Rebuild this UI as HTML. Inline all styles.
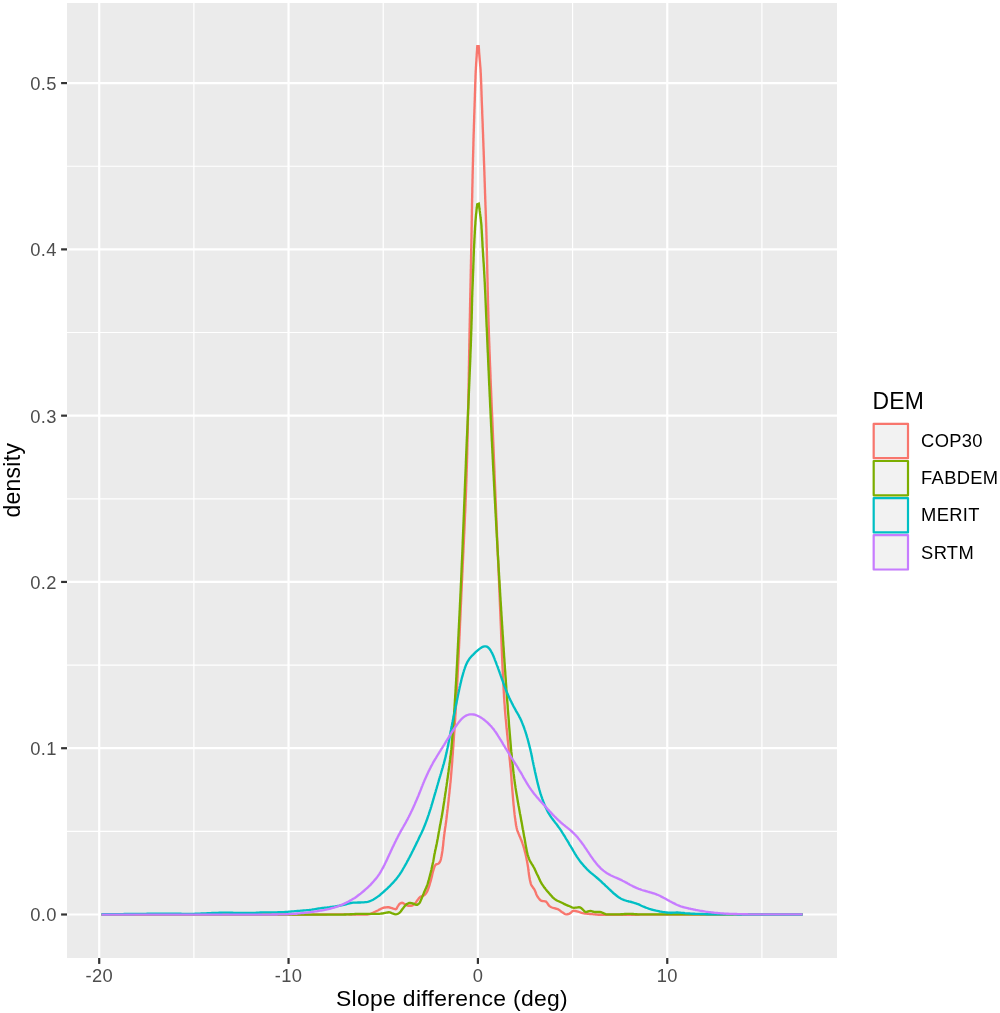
<!DOCTYPE html>
<html lang="en"><head><meta charset="utf-8"><title>Slope difference density</title>
<style>
html,body{margin:0;padding:0;background:#fff;}
body{width:1000px;height:1013px;overflow:hidden;}
svg{display:block;}
svg text{font-family:"Liberation Sans",sans-serif;}
</style></head><body>
<svg width="1000" height="1013" viewBox="0 0 1000 1013">
<rect x="0" y="0" width="1000" height="1013" fill="#FFFFFF"/>
<rect x="67.0" y="3.0" width="770.0" height="955.0" fill="#EBEBEB"/>
<line x1="193.88" x2="193.88" y1="3.0" y2="958.0" stroke="#FFFFFF" stroke-width="1.2"/>
<line x1="383.22" x2="383.22" y1="3.0" y2="958.0" stroke="#FFFFFF" stroke-width="1.2"/>
<line x1="572.57" x2="572.57" y1="3.0" y2="958.0" stroke="#FFFFFF" stroke-width="1.2"/>
<line x1="761.92" x2="761.92" y1="3.0" y2="958.0" stroke="#FFFFFF" stroke-width="1.2"/>
<line y1="831.36" y2="831.36" x1="67.0" x2="837.0" stroke="#FFFFFF" stroke-width="1.2"/>
<line y1="665.08" y2="665.08" x1="67.0" x2="837.0" stroke="#FFFFFF" stroke-width="1.2"/>
<line y1="498.80" y2="498.80" x1="67.0" x2="837.0" stroke="#FFFFFF" stroke-width="1.2"/>
<line y1="332.52" y2="332.52" x1="67.0" x2="837.0" stroke="#FFFFFF" stroke-width="1.2"/>
<line y1="166.24" y2="166.24" x1="67.0" x2="837.0" stroke="#FFFFFF" stroke-width="1.2"/>
<line x1="99.20" x2="99.20" y1="3.0" y2="958.0" stroke="#FFFFFF" stroke-width="2.2"/>
<line x1="288.55" x2="288.55" y1="3.0" y2="958.0" stroke="#FFFFFF" stroke-width="2.2"/>
<line x1="477.90" x2="477.90" y1="3.0" y2="958.0" stroke="#FFFFFF" stroke-width="2.2"/>
<line x1="667.25" x2="667.25" y1="3.0" y2="958.0" stroke="#FFFFFF" stroke-width="2.2"/>
<line y1="914.50" y2="914.50" x1="67.0" x2="837.0" stroke="#FFFFFF" stroke-width="2.2"/>
<line y1="748.22" y2="748.22" x1="67.0" x2="837.0" stroke="#FFFFFF" stroke-width="2.2"/>
<line y1="581.94" y2="581.94" x1="67.0" x2="837.0" stroke="#FFFFFF" stroke-width="2.2"/>
<line y1="415.66" y2="415.66" x1="67.0" x2="837.0" stroke="#FFFFFF" stroke-width="2.2"/>
<line y1="249.38" y2="249.38" x1="67.0" x2="837.0" stroke="#FFFFFF" stroke-width="2.2"/>
<line y1="83.10" y2="83.10" x1="67.0" x2="837.0" stroke="#FFFFFF" stroke-width="2.2"/>
<path d="M101.5,914.6 L102.7,914.6 L103.9,914.6 L105.1,914.6 L106.3,914.6 L107.5,914.6 L108.7,914.6 L109.9,914.6 L111.1,914.6 L112.3,914.6 L113.5,914.6 L114.7,914.6 L115.9,914.6 L117.1,914.6 L118.3,914.6 L119.5,914.6 L120.7,914.6 L121.9,914.6 L123.1,914.6 L124.3,914.6 L125.5,914.6 L126.7,914.6 L127.9,914.6 L129.1,914.6 L130.3,914.6 L131.6,914.6 L132.8,914.6 L134.0,914.6 L135.2,914.6 L136.4,914.6 L137.6,914.6 L138.8,914.6 L140.0,914.6 L141.2,914.6 L142.4,914.6 L143.6,914.6 L144.8,914.6 L146.0,914.6 L147.2,914.6 L148.4,914.6 L149.6,914.6 L150.8,914.6 L152.0,914.6 L153.2,914.6 L154.4,914.6 L155.6,914.6 L156.8,914.6 L158.0,914.6 L159.2,914.6 L160.4,914.6 L161.6,914.6 L162.8,914.6 L164.0,914.6 L165.2,914.6 L166.4,914.6 L167.6,914.6 L168.8,914.6 L170.0,914.6 L171.2,914.6 L172.4,914.6 L173.6,914.6 L174.8,914.6 L176.0,914.6 L177.2,914.6 L178.4,914.6 L179.6,914.6 L180.8,914.6 L182.0,914.6 L183.2,914.6 L184.4,914.6 L185.6,914.6 L186.8,914.6 L188.0,914.6 L189.3,914.6 L190.5,914.6 L191.7,914.6 L192.9,914.6 L194.1,914.6 L195.3,914.6 L196.5,914.6 L197.7,914.6 L198.9,914.6 L200.1,914.6 L201.3,914.6 L202.5,914.6 L203.7,914.6 L204.9,914.6 L206.1,914.6 L207.3,914.6 L208.5,914.6 L209.7,914.6 L210.9,914.6 L212.1,914.6 L213.3,914.6 L214.5,914.6 L215.7,914.6 L216.9,914.6 L218.1,914.6 L219.3,914.6 L220.5,914.6 L221.7,914.6 L222.9,914.6 L224.1,914.6 L225.3,914.6 L226.5,914.6 L227.7,914.6 L228.9,914.6 L230.1,914.6 L231.3,914.6 L232.5,914.6 L233.7,914.6 L234.9,914.6 L236.1,914.6 L237.3,914.6 L238.5,914.6 L239.7,914.6 L240.9,914.6 L242.1,914.6 L243.3,914.6 L244.5,914.6 L245.7,914.6 L246.9,914.6 L248.2,914.6 L249.4,914.6 L250.6,914.6 L251.8,914.6 L253.0,914.6 L254.2,914.6 L255.4,914.6 L256.6,914.6 L257.8,914.6 L259.0,914.6 L260.2,914.6 L261.4,914.6 L262.6,914.6 L263.8,914.6 L265.0,914.6 L266.2,914.6 L267.4,914.6 L268.6,914.6 L269.8,914.6 L271.0,914.6 L272.2,914.6 L273.4,914.6 L274.6,914.6 L275.8,914.6 L277.0,914.6 L278.2,914.6 L279.4,914.6 L280.6,914.6 L281.8,914.6 L283.0,914.6 L284.2,914.6 L285.4,914.6 L286.6,914.6 L287.8,914.6 L289.0,914.6 L290.2,914.6 L291.4,914.6 L292.6,914.6 L293.8,914.6 L295.0,914.6 L296.2,914.6 L297.4,914.6 L298.6,914.6 L299.8,914.6 L301.0,914.6 L302.2,914.6 L303.4,914.6 L304.6,914.6 L305.8,914.6 L307.1,914.6 L308.3,914.6 L309.5,914.6 L310.7,914.6 L311.9,914.6 L313.1,914.5 L314.3,914.5 L315.5,914.5 L316.7,914.5 L317.9,914.5 L319.1,914.5 L320.3,914.5 L321.5,914.5 L322.7,914.5 L323.9,914.5 L325.1,914.5 L326.3,914.5 L327.5,914.4 L328.7,914.4 L329.9,914.4 L331.1,914.4 L332.3,914.4 L333.5,914.4 L334.7,914.4 L335.9,914.4 L337.1,914.4 L338.3,914.4 L339.5,914.4 L340.7,914.4 L341.9,914.4 L343.1,914.4 L344.3,914.4 L345.5,914.4 L346.7,914.4 L347.9,914.4 L349.1,914.5 L350.3,914.5 L351.5,914.5 L352.7,914.5 L353.9,914.5 L355.1,914.5 L356.3,914.5 L357.5,914.6 L358.7,914.6 L360.0,914.6 L361.2,914.6 L362.4,914.6 L363.6,914.6 L364.7,914.6 L366.0,914.6 L367.2,914.5 L368.4,914.4 L369.6,914.2 L370.7,913.9 L371.8,913.4 L372.9,912.9 L374.0,912.3 L375.0,911.8 L376.1,911.2 L377.2,910.7 L378.3,910.2 L379.3,909.6 L380.4,909.1 L381.5,908.5 L382.6,908.1 L383.7,907.7 L384.9,907.5 L386.1,907.3 L387.3,907.2 L388.5,907.2 L389.7,907.5 L390.9,907.8 L392.0,908.1 L393.3,908.6 L394.5,909.0 L395.5,909.3 L396.3,909.0 L397.0,907.9 L397.6,906.6 L398.3,905.6 L399.0,904.5 L399.8,903.6 L400.8,903.1 L402.0,902.8 L403.1,903.1 L404.1,903.8 L405.2,904.4 L406.3,905.0 L407.4,905.5 L408.6,905.7 L409.8,905.7 L411.0,905.7 L412.1,905.6 L413.2,905.0 L414.2,904.2 L415.1,903.4 L415.9,902.5 L416.6,901.5 L417.2,900.4 L418.0,899.5 L418.7,898.5 L419.5,897.5 L420.4,896.8 L421.4,896.3 L422.6,895.9 L423.8,895.5 L424.7,894.8 L425.5,894.0 L426.3,892.9 L426.9,891.9 L427.4,890.9 L427.9,889.8 L428.3,888.6 L428.7,887.5 L429.1,886.3 L429.5,885.2 L429.8,884.0 L430.1,882.9 L430.5,881.7 L430.8,880.6 L431.1,879.4 L431.4,878.2 L431.7,877.1 L432.0,875.9 L432.2,874.7 L432.5,873.5 L432.8,872.4 L433.1,871.2 L433.4,870.1 L433.8,868.9 L434.2,867.7 L434.6,866.4 L435.2,865.4 L435.8,864.6 L436.9,864.2 L438.2,863.8 L439.0,863.1 L439.8,862.1 L440.3,861.0 L440.7,859.9 L441.0,858.7 L441.2,857.5 L441.5,856.3 L441.7,855.2 L441.9,854.0 L442.1,852.8 L442.3,851.6 L442.5,850.4 L442.6,849.2 L442.8,848.0 L442.9,846.8 L443.1,845.6 L443.2,844.4 L443.3,843.2 L443.4,842.0 L443.5,840.8 L443.7,839.7 L443.8,838.5 L443.9,837.3 L444.1,836.1 L444.2,834.9 L444.4,833.7 L444.5,832.5 L444.7,831.3 L444.9,830.1 L445.0,828.9 L445.2,827.7 L445.4,826.5 L445.6,825.4 L445.7,824.2 L445.9,823.0 L446.1,821.8 L446.2,820.6 L446.4,819.4 L446.5,818.2 L446.7,817.0 L446.8,815.8 L446.9,814.6 L447.1,813.4 L447.2,812.2 L447.4,811.0 L447.5,809.9 L447.7,808.7 L447.8,807.5 L447.9,806.3 L448.1,805.1 L448.2,803.9 L448.3,802.7 L448.5,801.5 L448.6,800.3 L448.7,799.1 L448.8,797.9 L449.0,796.7 L449.1,795.5 L449.2,794.3 L449.4,793.1 L449.5,791.9 L449.6,790.7 L449.7,789.5 L449.9,788.3 L450.0,787.1 L450.1,785.9 L450.2,784.8 L450.3,783.6 L450.5,782.4 L450.6,781.2 L450.7,780.0 L450.8,778.8 L450.9,777.6 L451.0,776.4 L451.1,775.2 L451.2,774.0 L451.3,772.8 L451.4,771.6 L451.5,770.4 L451.6,769.2 L451.7,768.0 L451.8,766.8 L451.9,765.6 L452.0,764.4 L452.1,763.2 L452.2,762.0 L452.3,760.8 L452.3,759.6 L452.4,758.4 L452.5,757.2 L452.6,756.0 L452.7,754.8 L452.8,753.6 L452.9,752.4 L452.9,751.2 L453.0,750.0 L453.1,748.8 L453.2,747.6 L453.3,746.4 L453.4,745.2 L453.4,744.0 L453.5,742.8 L453.6,741.6 L453.7,740.4 L453.8,739.2 L453.9,738.0 L453.9,736.8 L454.0,735.6 L454.1,734.4 L454.2,733.2 L454.3,732.0 L454.4,730.8 L454.4,729.6 L454.5,728.4 L454.6,727.2 L454.7,726.0 L454.8,724.8 L454.9,723.6 L454.9,722.4 L455.0,721.2 L455.1,720.0 L455.2,718.8 L455.2,717.6 L455.3,716.4 L455.4,715.2 L455.5,714.0 L455.6,712.8 L455.6,711.6 L455.7,710.4 L455.8,709.2 L455.8,708.0 L455.9,706.8 L456.0,705.6 L456.1,704.4 L456.1,703.2 L456.2,702.0 L456.3,700.8 L456.3,699.6 L456.4,698.4 L456.5,697.2 L456.5,696.0 L456.6,694.8 L456.7,693.6 L456.7,692.4 L456.8,691.2 L456.9,690.0 L456.9,688.8 L457.0,687.6 L457.1,686.4 L457.1,685.2 L457.2,684.0 L457.2,682.8 L457.3,681.6 L457.4,680.4 L457.4,679.2 L457.5,678.0 L457.6,676.8 L457.6,675.6 L457.7,674.4 L457.7,673.2 L457.8,672.0 L457.9,670.8 L457.9,669.6 L458.0,668.4 L458.0,667.2 L458.1,666.0 L458.2,664.8 L458.2,663.6 L458.3,662.4 L458.3,661.2 L458.4,660.0 L458.4,658.8 L458.5,657.6 L458.6,656.4 L458.6,655.2 L458.7,654.0 L458.7,652.8 L458.8,651.6 L458.8,650.4 L458.9,649.2 L459.0,648.0 L459.0,646.8 L459.1,645.6 L459.1,644.4 L459.2,643.2 L459.2,642.0 L459.3,640.8 L459.3,639.6 L459.4,638.4 L459.4,637.2 L459.5,636.0 L459.6,634.8 L459.6,633.6 L459.7,632.4 L459.7,631.2 L459.8,630.0 L459.8,628.8 L459.9,627.6 L459.9,626.4 L460.0,625.2 L460.0,624.0 L460.1,622.8 L460.1,621.6 L460.2,620.4 L460.3,619.2 L460.3,618.0 L460.4,616.8 L460.4,615.6 L460.5,614.4 L460.5,613.2 L460.6,612.0 L460.6,610.8 L460.7,609.6 L460.7,608.4 L460.8,607.2 L460.8,606.0 L460.9,604.8 L461.0,603.6 L461.0,602.4 L461.1,601.2 L461.1,600.0 L461.2,598.8 L461.2,597.6 L461.3,596.4 L461.3,595.2 L461.4,594.0 L461.4,592.8 L461.5,591.6 L461.6,590.4 L461.6,589.2 L461.7,588.0 L461.7,586.8 L461.8,585.6 L461.8,584.4 L461.9,583.2 L461.9,582.0 L462.0,580.8 L462.1,579.6 L462.1,578.4 L462.2,577.2 L462.2,576.0 L462.3,574.8 L462.3,573.6 L462.4,572.4 L462.5,571.2 L462.5,570.0 L462.6,568.8 L462.6,567.6 L462.7,566.4 L462.7,565.1 L462.8,563.9 L462.9,562.7 L462.9,561.5 L463.0,560.3 L463.0,559.1 L463.1,557.9 L463.1,556.7 L463.2,555.5 L463.2,554.3 L463.3,553.1 L463.4,551.9 L463.4,550.7 L463.5,549.5 L463.5,548.3 L463.6,547.1 L463.6,545.9 L463.7,544.7 L463.8,543.5 L463.8,542.3 L463.9,541.1 L463.9,539.9 L464.0,538.7 L464.0,537.5 L464.1,536.3 L464.1,535.1 L464.2,533.9 L464.3,532.7 L464.3,531.5 L464.4,530.3 L464.4,529.1 L464.5,527.9 L464.5,526.7 L464.6,525.5 L464.6,524.3 L464.7,523.1 L464.7,521.9 L464.8,520.7 L464.8,519.5 L464.9,518.3 L464.9,517.1 L465.0,515.9 L465.0,514.7 L465.1,513.5 L465.2,512.3 L465.2,511.1 L465.3,509.9 L465.3,508.7 L465.4,507.5 L465.4,506.3 L465.5,505.1 L465.5,503.9 L465.5,502.7 L465.6,501.5 L465.6,500.3 L465.7,499.1 L465.7,497.9 L465.8,496.7 L465.8,495.5 L465.9,494.3 L465.9,493.1 L466.0,491.9 L466.0,490.7 L466.1,489.5 L466.1,488.3 L466.1,487.1 L466.2,485.9 L466.2,484.7 L466.3,483.5 L466.3,482.3 L466.4,481.1 L466.4,479.9 L466.4,478.7 L466.5,477.5 L466.5,476.3 L466.6,475.1 L466.6,473.9 L466.6,472.7 L466.7,471.5 L466.7,470.3 L466.7,469.1 L466.8,467.9 L466.8,466.7 L466.9,465.5 L466.9,464.3 L466.9,463.1 L467.0,461.9 L467.0,460.7 L467.0,459.5 L467.1,458.3 L467.1,457.1 L467.1,455.9 L467.2,454.7 L467.2,453.4 L467.2,452.2 L467.2,451.0 L467.3,449.8 L467.3,448.6 L467.3,447.4 L467.4,446.2 L467.4,445.0 L467.4,443.8 L467.4,442.6 L467.5,441.4 L467.5,440.2 L467.5,439.0 L467.6,437.8 L467.6,436.6 L467.6,435.4 L467.6,434.2 L467.7,433.0 L467.7,431.8 L467.7,430.6 L467.8,429.4 L467.8,428.2 L467.8,427.0 L467.8,425.8 L467.9,424.6 L467.9,423.4 L467.9,422.2 L467.9,421.0 L468.0,419.8 L468.0,418.6 L468.0,417.4 L468.0,416.2 L468.1,415.0 L468.1,413.8 L468.1,412.6 L468.1,411.4 L468.1,410.2 L468.2,409.0 L468.2,407.8 L468.2,406.6 L468.2,405.4 L468.3,404.2 L468.3,403.0 L468.3,401.8 L468.3,400.6 L468.4,399.4 L468.4,398.2 L468.4,397.0 L468.4,395.8 L468.4,394.6 L468.5,393.4 L468.5,392.2 L468.5,391.0 L468.5,389.8 L468.6,388.6 L468.6,387.4 L468.6,386.2 L468.6,384.9 L468.6,383.7 L468.7,382.5 L468.7,381.3 L468.7,380.1 L468.7,378.9 L468.8,377.7 L468.8,376.5 L468.8,375.3 L468.8,374.1 L468.8,372.9 L468.9,371.7 L468.9,370.5 L468.9,369.3 L468.9,368.1 L468.9,366.9 L469.0,365.7 L469.0,364.5 L469.0,363.3 L469.0,362.1 L469.0,360.9 L469.1,359.7 L469.1,358.5 L469.1,357.3 L469.1,356.1 L469.2,354.9 L469.2,353.7 L469.2,352.5 L469.2,351.3 L469.2,350.1 L469.3,348.9 L469.3,347.7 L469.3,346.5 L469.3,345.3 L469.3,344.1 L469.4,342.9 L469.4,341.7 L469.4,340.5 L469.4,339.3 L469.5,338.1 L469.5,336.9 L469.5,335.7 L469.5,334.5 L469.5,333.3 L469.6,332.1 L469.6,330.9 L469.6,329.7 L469.6,328.5 L469.7,327.3 L469.7,326.1 L469.7,324.9 L469.7,323.7 L469.8,322.4 L469.8,321.2 L469.8,320.0 L469.8,318.8 L469.9,317.6 L469.9,316.4 L469.9,315.2 L469.9,314.0 L470.0,312.8 L470.0,311.6 L470.0,310.4 L470.0,309.2 L470.0,308.0 L470.1,306.8 L470.1,305.6 L470.1,304.4 L470.1,303.2 L470.2,302.0 L470.2,300.8 L470.2,299.6 L470.2,298.4 L470.3,297.2 L470.3,296.0 L470.3,294.8 L470.3,293.6 L470.4,292.4 L470.4,291.2 L470.4,290.0 L470.4,288.8 L470.5,287.6 L470.5,286.4 L470.5,285.2 L470.5,284.0 L470.6,282.8 L470.6,281.6 L470.6,280.4 L470.6,279.2 L470.7,278.0 L470.7,276.8 L470.7,275.6 L470.7,274.4 L470.8,273.2 L470.8,272.0 L470.8,270.8 L470.8,269.6 L470.9,268.4 L470.9,267.2 L470.9,266.0 L470.9,264.8 L471.0,263.6 L471.0,262.4 L471.0,261.2 L471.0,260.0 L471.1,258.8 L471.1,257.6 L471.1,256.3 L471.1,255.1 L471.2,253.9 L471.2,252.7 L471.2,251.5 L471.2,250.3 L471.2,249.1 L471.3,247.9 L471.3,246.7 L471.3,245.5 L471.3,244.3 L471.4,243.1 L471.4,241.9 L471.4,240.7 L471.4,239.5 L471.5,238.3 L471.5,237.1 L471.5,235.9 L471.5,234.7 L471.5,233.5 L471.6,232.3 L471.6,231.1 L471.6,229.9 L471.6,228.7 L471.6,227.5 L471.7,226.3 L471.7,225.1 L471.7,223.9 L471.7,222.7 L471.7,221.5 L471.8,220.3 L471.8,219.1 L471.8,217.9 L471.8,216.7 L471.8,215.5 L471.9,214.3 L471.9,213.1 L471.9,211.9 L471.9,210.7 L471.9,209.5 L472.0,208.3 L472.0,207.1 L472.0,205.9 L472.0,204.7 L472.0,203.5 L472.1,202.3 L472.1,201.1 L472.1,199.9 L472.1,198.7 L472.2,197.5 L472.2,196.3 L472.2,195.1 L472.2,193.9 L472.3,192.7 L472.3,191.4 L472.3,190.2 L472.3,189.0 L472.3,187.8 L472.4,186.6 L472.4,185.4 L472.4,184.2 L472.5,183.0 L472.5,181.8 L472.5,180.6 L472.5,179.4 L472.6,178.2 L472.6,177.0 L472.6,175.8 L472.6,174.6 L472.7,173.4 L472.7,172.2 L472.7,171.0 L472.8,169.8 L472.8,168.6 L472.8,167.4 L472.8,166.2 L472.9,165.0 L472.9,163.8 L472.9,162.6 L473.0,161.4 L473.0,160.2 L473.0,159.0 L473.0,157.8 L473.1,156.6 L473.1,155.4 L473.1,154.2 L473.2,153.0 L473.2,151.8 L473.2,150.6 L473.3,149.4 L473.3,148.2 L473.3,147.0 L473.4,145.8 L473.4,144.6 L473.4,143.4 L473.4,142.2 L473.5,141.0 L473.5,139.8 L473.5,138.6 L473.6,137.4 L473.6,136.2 L473.6,135.0 L473.7,133.8 L473.7,132.6 L473.8,131.4 L473.8,130.2 L473.8,129.0 L473.9,127.8 L473.9,126.6 L473.9,125.4 L474.0,124.2 L474.0,123.0 L474.1,121.8 L474.1,120.6 L474.1,119.4 L474.2,118.1 L474.2,116.9 L474.2,115.7 L474.3,114.5 L474.3,113.3 L474.4,112.1 L474.4,110.9 L474.4,109.7 L474.5,108.5 L474.5,107.3 L474.6,106.1 L474.6,104.9 L474.6,103.7 L474.7,102.5 L474.7,101.3 L474.8,100.1 L474.8,98.9 L474.8,97.7 L474.9,96.5 L474.9,95.3 L474.9,94.1 L475.0,92.9 L475.0,91.7 L475.1,90.5 L475.1,89.3 L475.1,88.1 L475.2,86.9 L475.2,85.7 L475.2,84.5 L475.3,83.3 L475.3,82.1 L475.4,80.9 L475.4,79.7 L475.5,78.5 L475.5,77.3 L475.5,76.1 L475.6,74.9 L475.6,73.7 L475.7,72.5 L475.7,71.3 L475.8,70.1 L475.9,68.9 L475.9,67.7 L476.0,66.5 L476.1,65.3 L476.1,64.1 L476.2,62.9 L476.3,61.7 L476.4,60.5 L476.4,59.3 L476.5,58.1 L476.6,56.9 L476.7,55.7 L476.7,54.5 L476.8,53.3 L476.9,52.1 L477.0,50.9 L477.1,49.7 L477.1,48.5 L477.2,47.3 L477.3,46.1 L478.7,46.1 L478.8,47.3 L478.9,48.5 L479.0,49.7 L479.0,50.9 L479.1,52.1 L479.2,53.3 L479.3,54.5 L479.4,55.7 L479.5,56.9 L479.6,58.1 L479.7,59.3 L479.8,60.5 L479.9,61.7 L480.0,62.9 L480.1,64.1 L480.2,65.3 L480.3,66.5 L480.4,67.7 L480.5,68.9 L480.6,70.1 L480.6,71.3 L480.7,72.5 L480.8,73.7 L480.8,74.9 L480.9,76.1 L480.9,77.3 L481.0,78.5 L481.0,79.7 L481.1,80.9 L481.1,82.1 L481.2,83.3 L481.2,84.5 L481.3,85.7 L481.3,86.9 L481.3,88.1 L481.4,89.3 L481.4,90.5 L481.5,91.7 L481.5,92.9 L481.5,94.1 L481.6,95.3 L481.6,96.5 L481.7,97.7 L481.7,98.9 L481.7,100.1 L481.8,101.3 L481.8,102.5 L481.9,103.7 L481.9,104.9 L482.0,106.1 L482.0,107.3 L482.1,108.5 L482.1,109.7 L482.2,110.9 L482.2,112.1 L482.2,113.3 L482.3,114.5 L482.3,115.7 L482.4,116.9 L482.4,118.1 L482.5,119.3 L482.5,120.5 L482.6,121.7 L482.6,122.9 L482.7,124.2 L482.7,125.4 L482.7,126.6 L482.8,127.8 L482.8,129.0 L482.9,130.2 L482.9,131.4 L483.0,132.6 L483.0,133.8 L483.1,135.0 L483.1,136.2 L483.1,137.4 L483.2,138.6 L483.2,139.8 L483.3,141.0 L483.3,142.2 L483.4,143.4 L483.4,144.6 L483.4,145.8 L483.5,147.0 L483.5,148.2 L483.6,149.4 L483.6,150.6 L483.7,151.8 L483.7,153.0 L483.7,154.2 L483.8,155.4 L483.8,156.6 L483.9,157.8 L483.9,159.0 L483.9,160.2 L484.0,161.4 L484.0,162.6 L484.1,163.8 L484.1,165.0 L484.2,166.2 L484.2,167.4 L484.2,168.6 L484.3,169.8 L484.3,171.0 L484.4,172.2 L484.4,173.4 L484.4,174.6 L484.5,175.8 L484.5,177.0 L484.6,178.2 L484.6,179.4 L484.6,180.6 L484.7,181.8 L484.7,183.0 L484.8,184.2 L484.8,185.4 L484.8,186.6 L484.9,187.8 L484.9,189.0 L485.0,190.2 L485.0,191.5 L485.0,192.7 L485.1,193.9 L485.1,195.1 L485.2,196.3 L485.2,197.5 L485.2,198.7 L485.3,199.9 L485.3,201.1 L485.4,202.3 L485.4,203.5 L485.4,204.7 L485.5,205.9 L485.5,207.1 L485.6,208.3 L485.6,209.5 L485.7,210.7 L485.7,211.9 L485.7,213.1 L485.8,214.3 L485.8,215.5 L485.9,216.7 L485.9,217.9 L485.9,219.1 L486.0,220.3 L486.0,221.5 L486.1,222.7 L486.1,223.9 L486.1,225.1 L486.2,226.3 L486.2,227.5 L486.3,228.7 L486.3,229.9 L486.3,231.1 L486.4,232.3 L486.4,233.5 L486.4,234.7 L486.5,235.9 L486.5,237.1 L486.5,238.3 L486.6,239.5 L486.6,240.7 L486.6,241.9 L486.6,243.1 L486.7,244.3 L486.7,245.5 L486.7,246.7 L486.8,247.9 L486.8,249.1 L486.8,250.3 L486.9,251.5 L486.9,252.7 L486.9,254.0 L486.9,255.2 L487.0,256.4 L487.0,257.6 L487.0,258.8 L487.1,260.0 L487.1,261.2 L487.1,262.4 L487.1,263.6 L487.2,264.8 L487.2,266.0 L487.2,267.2 L487.2,268.4 L487.3,269.6 L487.3,270.8 L487.3,272.0 L487.3,273.2 L487.4,274.4 L487.4,275.6 L487.4,276.8 L487.5,278.0 L487.5,279.2 L487.5,280.4 L487.5,281.6 L487.6,282.8 L487.6,284.0 L487.6,285.2 L487.6,286.4 L487.7,287.6 L487.7,288.8 L487.7,290.0 L487.7,291.2 L487.8,292.4 L487.8,293.6 L487.8,294.8 L487.9,296.0 L487.9,297.2 L487.9,298.4 L487.9,299.6 L488.0,300.8 L488.0,302.0 L488.0,303.2 L488.1,304.4 L488.1,305.6 L488.1,306.8 L488.2,308.1 L488.2,309.3 L488.2,310.5 L488.3,311.7 L488.3,312.9 L488.3,314.1 L488.4,315.3 L488.4,316.5 L488.4,317.7 L488.5,318.9 L488.5,320.1 L488.5,321.3 L488.6,322.5 L488.6,323.7 L488.6,324.9 L488.7,326.1 L488.7,327.3 L488.8,328.5 L488.8,329.7 L488.8,330.9 L488.9,332.1 L488.9,333.3 L488.9,334.5 L489.0,335.7 L489.0,336.9 L489.1,338.1 L489.1,339.3 L489.1,340.5 L489.2,341.7 L489.2,342.9 L489.3,344.1 L489.3,345.3 L489.4,346.5 L489.4,347.7 L489.4,348.9 L489.5,350.1 L489.5,351.3 L489.6,352.5 L489.6,353.7 L489.7,354.9 L489.7,356.1 L489.8,357.3 L489.8,358.5 L489.8,359.7 L489.9,360.9 L489.9,362.1 L490.0,363.3 L490.0,364.5 L490.1,365.7 L490.1,366.9 L490.2,368.1 L490.2,369.3 L490.3,370.5 L490.3,371.7 L490.4,372.9 L490.4,374.1 L490.5,375.3 L490.5,376.6 L490.5,377.8 L490.6,379.0 L490.6,380.2 L490.7,381.4 L490.7,382.6 L490.8,383.8 L490.8,385.0 L490.9,386.2 L490.9,387.4 L491.0,388.6 L491.0,389.8 L491.1,391.0 L491.1,392.2 L491.2,393.4 L491.2,394.6 L491.3,395.8 L491.3,397.0 L491.4,398.2 L491.4,399.4 L491.5,400.6 L491.5,401.8 L491.6,403.0 L491.6,404.2 L491.7,405.4 L491.7,406.6 L491.8,407.8 L491.8,409.0 L491.9,410.2 L491.9,411.4 L492.0,412.6 L492.1,413.8 L492.1,415.0 L492.2,416.2 L492.2,417.4 L492.3,418.6 L492.3,419.8 L492.4,421.0 L492.4,422.2 L492.5,423.4 L492.5,424.6 L492.6,425.8 L492.6,427.0 L492.7,428.2 L492.7,429.4 L492.8,430.6 L492.8,431.8 L492.9,433.0 L492.9,434.2 L493.0,435.4 L493.0,436.6 L493.1,437.8 L493.1,439.0 L493.2,440.2 L493.2,441.4 L493.3,442.6 L493.3,443.8 L493.4,445.0 L493.4,446.2 L493.5,447.4 L493.5,448.6 L493.6,449.8 L493.6,451.0 L493.7,452.2 L493.7,453.4 L493.8,454.6 L493.8,455.9 L493.9,457.1 L493.9,458.3 L494.0,459.5 L494.0,460.7 L494.1,461.9 L494.1,463.1 L494.2,464.3 L494.2,465.5 L494.3,466.7 L494.3,467.9 L494.4,469.1 L494.4,470.3 L494.5,471.5 L494.5,472.7 L494.5,473.9 L494.6,475.1 L494.6,476.3 L494.7,477.5 L494.7,478.7 L494.8,479.9 L494.8,481.1 L494.9,482.3 L494.9,483.5 L495.0,484.7 L495.0,485.9 L495.1,487.1 L495.1,488.3 L495.2,489.5 L495.2,490.7 L495.3,491.9 L495.3,493.1 L495.4,494.3 L495.4,495.5 L495.5,496.7 L495.5,497.9 L495.6,499.1 L495.6,500.3 L495.7,501.5 L495.7,502.7 L495.8,503.9 L495.8,505.1 L495.9,506.3 L495.9,507.5 L496.0,508.7 L496.0,509.9 L496.1,511.1 L496.1,512.3 L496.2,513.5 L496.2,514.7 L496.3,515.9 L496.3,517.1 L496.4,518.3 L496.4,519.5 L496.5,520.7 L496.5,521.9 L496.6,523.1 L496.6,524.3 L496.7,525.5 L496.7,526.7 L496.8,527.9 L496.8,529.1 L496.9,530.3 L496.9,531.5 L497.0,532.7 L497.0,533.9 L497.0,535.2 L497.1,536.4 L497.1,537.6 L497.2,538.8 L497.2,540.0 L497.3,541.2 L497.3,542.4 L497.4,543.6 L497.4,544.8 L497.5,546.0 L497.5,547.2 L497.6,548.4 L497.6,549.6 L497.7,550.8 L497.7,552.0 L497.8,553.2 L497.8,554.4 L497.9,555.6 L497.9,556.8 L498.0,558.0 L498.0,559.2 L498.1,560.4 L498.2,561.6 L498.2,562.8 L498.3,564.0 L498.3,565.2 L498.4,566.4 L498.4,567.6 L498.5,568.8 L498.5,570.0 L498.6,571.2 L498.6,572.4 L498.7,573.6 L498.7,574.8 L498.8,576.0 L498.8,577.2 L498.9,578.4 L498.9,579.6 L499.0,580.8 L499.0,582.0 L499.1,583.2 L499.1,584.4 L499.2,585.6 L499.2,586.8 L499.3,588.0 L499.3,589.2 L499.4,590.4 L499.4,591.6 L499.5,592.8 L499.5,594.0 L499.6,595.2 L499.6,596.4 L499.7,597.6 L499.7,598.8 L499.8,600.0 L499.8,601.2 L499.9,602.4 L499.9,603.6 L500.0,604.8 L500.0,606.0 L500.1,607.2 L500.1,608.4 L500.2,609.6 L500.2,610.8 L500.3,612.0 L500.3,613.2 L500.4,614.4 L500.4,615.6 L500.5,616.9 L500.5,618.1 L500.6,619.3 L500.6,620.5 L500.7,621.7 L500.7,622.9 L500.8,624.1 L500.8,625.3 L500.9,626.5 L500.9,627.7 L501.0,628.9 L501.0,630.1 L501.1,631.3 L501.1,632.5 L501.1,633.7 L501.2,634.9 L501.2,636.1 L501.3,637.3 L501.3,638.5 L501.4,639.7 L501.4,640.9 L501.5,642.1 L501.5,643.3 L501.6,644.5 L501.6,645.7 L501.7,646.9 L501.7,648.1 L501.8,649.3 L501.8,650.5 L501.9,651.7 L501.9,652.9 L502.0,654.1 L502.0,655.3 L502.1,656.5 L502.1,657.7 L502.2,658.9 L502.2,660.1 L502.3,661.3 L502.3,662.5 L502.4,663.7 L502.4,664.9 L502.5,666.1 L502.5,667.3 L502.6,668.5 L502.7,669.7 L502.7,670.9 L502.8,672.1 L502.8,673.3 L502.9,674.5 L502.9,675.7 L503.0,676.9 L503.1,678.1 L503.1,679.3 L503.2,680.5 L503.2,681.7 L503.3,682.9 L503.4,684.1 L503.4,685.3 L503.5,686.5 L503.6,687.7 L503.6,688.9 L503.7,690.1 L503.8,691.3 L503.8,692.5 L503.9,693.7 L504.0,694.9 L504.0,696.1 L504.1,697.3 L504.2,698.5 L504.3,699.7 L504.3,700.9 L504.4,702.1 L504.5,703.3 L504.6,704.5 L504.7,705.7 L504.8,706.9 L504.8,708.1 L504.9,709.3 L505.0,710.5 L505.1,711.7 L505.2,712.9 L505.3,714.1 L505.4,715.3 L505.5,716.5 L505.6,717.7 L505.7,718.9 L505.9,720.1 L506.0,721.3 L506.1,722.5 L506.2,723.7 L506.3,724.9 L506.4,726.1 L506.5,727.3 L506.6,728.5 L506.8,729.7 L506.9,730.9 L507.0,732.1 L507.1,733.3 L507.2,734.5 L507.4,735.7 L507.5,736.9 L507.6,738.1 L507.7,739.3 L507.8,740.5 L508.0,741.7 L508.1,742.9 L508.2,744.1 L508.3,745.3 L508.4,746.4 L508.5,747.6 L508.7,748.8 L508.8,750.0 L508.9,751.2 L509.0,752.4 L509.1,753.6 L509.3,754.8 L509.4,756.0 L509.5,757.2 L509.6,758.4 L509.7,759.6 L509.9,760.8 L510.0,762.0 L510.1,763.2 L510.2,764.4 L510.3,765.6 L510.4,766.8 L510.6,768.0 L510.7,769.2 L510.8,770.4 L510.9,771.6 L511.0,772.8 L511.1,774.0 L511.2,775.2 L511.3,776.4 L511.4,777.6 L511.5,778.8 L511.5,780.0 L511.6,781.2 L511.7,782.4 L511.8,783.6 L511.9,784.8 L512.0,786.0 L512.1,787.2 L512.2,788.4 L512.3,789.6 L512.4,790.8 L512.5,792.0 L512.6,793.2 L512.7,794.4 L512.8,795.6 L512.9,796.8 L513.0,798.0 L513.1,799.2 L513.2,800.4 L513.3,801.5 L513.4,802.7 L513.5,803.9 L513.6,805.1 L513.8,806.3 L513.9,807.5 L514.0,808.7 L514.1,809.9 L514.2,811.1 L514.4,812.3 L514.5,813.5 L514.6,814.7 L514.8,815.9 L514.9,817.1 L515.1,818.3 L515.3,819.5 L515.4,820.7 L515.6,821.9 L515.8,823.1 L515.9,824.3 L516.1,825.5 L516.4,826.6 L516.6,827.8 L516.9,829.0 L517.2,830.1 L517.6,831.2 L518.1,832.4 L518.5,833.5 L519.0,834.6 L519.4,835.7 L519.9,836.8 L520.4,837.9 L520.8,839.0 L521.3,840.2 L521.7,841.3 L522.2,842.4 L522.5,843.5 L522.9,844.7 L523.3,845.8 L523.6,847.0 L524.0,848.1 L524.3,849.3 L524.6,850.4 L524.9,851.6 L525.2,852.8 L525.5,853.9 L525.8,855.1 L526.0,856.3 L526.3,857.5 L526.5,858.6 L526.7,859.8 L527.0,861.0 L527.2,862.2 L527.4,863.4 L527.6,864.6 L527.8,865.7 L528.0,866.9 L528.2,868.1 L528.3,869.3 L528.5,870.5 L528.6,871.7 L528.8,872.9 L528.9,874.1 L529.1,875.3 L529.3,876.5 L529.5,877.7 L529.7,878.8 L529.9,880.0 L530.2,881.2 L530.5,882.4 L530.8,883.6 L531.2,884.7 L531.7,885.7 L532.4,886.7 L533.1,887.7 L533.9,888.7 L534.5,889.7 L535.0,890.8 L535.5,891.9 L535.9,893.0 L536.3,894.2 L536.8,895.3 L537.4,896.3 L538.0,897.3 L538.8,898.4 L539.6,899.4 L540.5,900.2 L541.5,900.8 L542.6,901.0 L543.8,901.1 L545.1,901.3 L546.0,901.6 L546.8,902.4 L547.5,903.4 L548.2,904.6 L549.0,905.6 L549.9,906.4 L550.9,907.0 L552.0,907.5 L553.2,907.9 L554.3,908.2 L555.5,908.5 L556.7,908.8 L557.8,909.2 L558.8,909.7 L559.8,910.4 L560.8,911.2 L561.8,911.9 L562.8,912.5 L563.8,913.3 L564.9,914.0 L566.0,914.4 L567.1,914.3 L568.3,914.0 L569.5,913.6 L570.5,913.0 L571.4,912.1 L572.4,911.2 L573.4,910.7 L574.5,910.8 L575.7,911.0 L576.9,911.3 L578.0,911.6 L579.2,912.0 L580.3,912.4 L581.5,912.8 L582.6,913.1 L583.8,913.4 L585.0,913.5 L586.2,913.7 L587.4,913.8 L588.6,913.9 L589.8,914.0 L591.0,914.1 L592.2,914.2 L593.4,914.3 L594.6,914.4 L595.8,914.5 L597.0,914.6 L598.2,914.7 L599.4,914.7 L600.6,914.7 L601.8,914.7 L603.0,914.7 L604.2,914.7 L605.4,914.7 L606.6,914.7 L607.8,914.7 L609.0,914.7 L610.2,914.7 L611.4,914.7 L612.6,914.7 L613.8,914.7 L615.0,914.7 L616.2,914.7 L617.4,914.7 L618.6,914.7 L619.8,914.7 L621.0,914.7 L622.2,914.7 L623.4,914.7 L624.6,914.7 L625.8,914.7 L627.0,914.7 L628.2,914.7 L629.4,914.7 L630.6,914.7 L631.8,914.7 L633.0,914.7 L634.2,914.7 L635.4,914.7 L636.6,914.7 L637.8,914.7 L639.0,914.7 L640.2,914.6 L641.4,914.6 L642.6,914.6 L643.9,914.6 L645.1,914.6 L646.3,914.6 L647.5,914.6 L648.7,914.6 L649.9,914.6 L651.1,914.6 L652.3,914.6 L653.5,914.6 L654.7,914.6 L655.9,914.6 L657.1,914.6 L658.3,914.6 L659.5,914.6 L660.7,914.6 L661.9,914.6 L663.1,914.6 L664.3,914.6 L665.5,914.6 L666.7,914.6 L667.9,914.6 L669.1,914.6 L670.3,914.6 L671.5,914.6 L672.7,914.6 L673.9,914.6 L675.1,914.6 L676.3,914.6 L677.5,914.6 L678.7,914.5 L679.9,914.5 L681.1,914.5 L682.3,914.5 L683.5,914.5 L684.8,914.5 L686.0,914.5 L687.2,914.5 L688.4,914.5 L689.6,914.5 L690.8,914.5 L692.0,914.5 L693.2,914.5 L694.4,914.5 L695.6,914.5 L696.8,914.5 L698.0,914.5 L699.2,914.5 L700.4,914.5 L701.6,914.5 L702.8,914.5 L704.0,914.5 L705.2,914.5 L706.4,914.5 L707.6,914.5 L708.8,914.5 L710.0,914.5 L711.2,914.5 L712.4,914.5 L713.6,914.5 L714.8,914.5 L716.0,914.5 L717.2,914.5 L718.4,914.5 L719.6,914.5 L720.8,914.5 L722.0,914.5 L723.2,914.5 L724.4,914.5 L725.6,914.4 L726.8,914.4 L728.0,914.4 L729.2,914.4 L730.4,914.4 L731.7,914.4 L732.9,914.4 L734.1,914.4 L735.3,914.4 L736.5,914.4 L737.7,914.4 L738.9,914.4 L740.1,914.4 L741.3,914.4 L742.5,914.4 L743.7,914.4 L744.9,914.4 L746.1,914.4 L747.3,914.4 L748.5,914.4 L749.7,914.4 L750.9,914.4 L752.1,914.4 L753.3,914.4 L754.5,914.4 L755.7,914.4 L756.9,914.4 L758.1,914.4 L759.3,914.4 L760.5,914.4 L761.7,914.4 L762.9,914.4 L764.1,914.4 L765.3,914.4 L766.5,914.4 L767.7,914.4 L768.9,914.4 L770.1,914.4 L771.3,914.4 L772.5,914.4 L773.7,914.4 L774.9,914.4 L776.1,914.4 L777.3,914.3 L778.5,914.3 L779.8,914.3 L781.0,914.3 L782.2,914.3 L783.4,914.3 L784.6,914.3 L785.8,914.3 L787.0,914.3 L788.2,914.3 L789.4,914.3 L790.6,914.3 L791.8,914.3 L793.0,914.3 L794.2,914.3 L795.4,914.3 L796.6,914.3 L797.8,914.3 L799.0,914.3 L800.2,914.3 L801.4,914.3 L802.6,914.3" fill="none" stroke="#F8766D" stroke-width="2.35" stroke-linejoin="miter" stroke-miterlimit="10" stroke-linecap="butt"/>
<path d="M101.5,914.6 L102.7,914.6 L103.9,914.6 L105.1,914.6 L106.3,914.6 L107.5,914.6 L108.7,914.6 L109.9,914.6 L111.1,914.6 L112.3,914.6 L113.5,914.6 L114.7,914.6 L115.9,914.6 L117.1,914.6 L118.3,914.6 L119.5,914.6 L120.7,914.6 L121.9,914.6 L123.1,914.6 L124.3,914.6 L125.6,914.6 L126.8,914.6 L128.0,914.6 L129.2,914.6 L130.4,914.6 L131.6,914.6 L132.8,914.6 L134.0,914.6 L135.2,914.6 L136.4,914.6 L137.6,914.6 L138.8,914.6 L140.0,914.6 L141.2,914.6 L142.4,914.6 L143.6,914.6 L144.8,914.6 L146.0,914.6 L147.2,914.6 L148.4,914.6 L149.6,914.6 L150.8,914.6 L152.0,914.6 L153.2,914.6 L154.4,914.6 L155.6,914.6 L156.8,914.6 L158.0,914.6 L159.2,914.6 L160.4,914.6 L161.6,914.6 L162.8,914.6 L164.0,914.6 L165.2,914.6 L166.4,914.6 L167.6,914.6 L168.8,914.6 L170.0,914.6 L171.2,914.6 L172.4,914.6 L173.7,914.6 L174.9,914.6 L176.1,914.6 L177.3,914.6 L178.5,914.6 L179.7,914.6 L180.9,914.6 L182.1,914.6 L183.3,914.6 L184.5,914.6 L185.7,914.6 L186.9,914.6 L188.1,914.6 L189.3,914.6 L190.5,914.6 L191.7,914.6 L192.9,914.6 L194.1,914.6 L195.3,914.6 L196.5,914.6 L197.7,914.6 L198.9,914.6 L200.1,914.6 L201.3,914.6 L202.5,914.6 L203.7,914.6 L204.9,914.6 L206.1,914.6 L207.3,914.6 L208.5,914.6 L209.7,914.6 L210.9,914.6 L212.1,914.6 L213.3,914.6 L214.5,914.6 L215.7,914.6 L216.9,914.6 L218.1,914.6 L219.3,914.6 L220.6,914.6 L221.8,914.6 L223.0,914.6 L224.2,914.6 L225.4,914.6 L226.6,914.6 L227.8,914.6 L229.0,914.6 L230.2,914.6 L231.4,914.6 L232.6,914.6 L233.8,914.6 L235.0,914.6 L236.2,914.6 L237.4,914.6 L238.6,914.6 L239.8,914.6 L241.0,914.6 L242.2,914.6 L243.4,914.6 L244.6,914.6 L245.8,914.6 L247.0,914.6 L248.2,914.6 L249.4,914.6 L250.6,914.6 L251.8,914.6 L253.0,914.6 L254.2,914.6 L255.4,914.6 L256.6,914.6 L257.8,914.6 L259.0,914.6 L260.2,914.6 L261.4,914.6 L262.6,914.6 L263.8,914.6 L265.1,914.6 L266.3,914.6 L267.5,914.6 L268.7,914.6 L269.9,914.6 L271.1,914.6 L272.3,914.6 L273.5,914.6 L274.7,914.6 L275.9,914.6 L277.1,914.6 L278.3,914.6 L279.5,914.6 L280.7,914.6 L281.9,914.6 L283.1,914.6 L284.3,914.6 L285.5,914.6 L286.7,914.6 L287.9,914.6 L289.1,914.6 L290.3,914.6 L291.5,914.6 L292.7,914.6 L293.9,914.6 L295.1,914.6 L296.3,914.6 L297.5,914.6 L298.7,914.6 L299.9,914.6 L301.1,914.6 L302.3,914.6 L303.5,914.6 L304.7,914.6 L305.9,914.6 L307.1,914.6 L308.3,914.6 L309.5,914.6 L310.7,914.6 L311.9,914.6 L313.2,914.6 L314.4,914.6 L315.6,914.6 L316.8,914.6 L318.0,914.6 L319.2,914.6 L320.4,914.6 L321.6,914.6 L322.8,914.6 L324.0,914.6 L325.2,914.6 L326.4,914.6 L327.6,914.6 L328.8,914.6 L330.0,914.6 L331.2,914.6 L332.4,914.6 L333.6,914.6 L334.8,914.6 L336.0,914.6 L337.2,914.6 L338.4,914.6 L339.6,914.6 L340.8,914.6 L342.0,914.6 L343.2,914.6 L344.4,914.5 L345.6,914.5 L346.8,914.4 L348.0,914.4 L349.2,914.3 L350.4,914.2 L351.6,914.2 L352.8,914.1 L354.0,914.1 L355.2,914.0 L356.4,913.9 L357.6,913.9 L358.8,913.9 L360.0,913.8 L361.2,913.8 L362.4,913.8 L363.6,913.8 L364.8,913.8 L366.0,913.8 L367.2,913.9 L368.4,913.9 L369.6,913.9 L370.9,913.9 L372.1,913.9 L373.3,913.9 L374.5,913.9 L375.7,913.9 L376.9,913.8 L378.1,913.8 L379.3,913.8 L380.5,913.7 L381.7,913.5 L382.8,913.3 L384.0,913.1 L385.2,912.9 L386.4,912.7 L387.6,912.5 L388.8,912.3 L390.0,912.4 L391.1,912.8 L392.2,913.3 L393.4,913.7 L394.5,914.2 L395.7,914.4 L396.8,914.2 L398.0,913.8 L399.0,913.1 L399.9,912.3 L400.7,911.5 L401.4,910.5 L402.1,909.5 L402.9,908.5 L403.6,907.6 L404.4,906.6 L405.1,905.6 L406.0,904.8 L406.9,904.1 L408.0,903.5 L409.1,903.0 L410.3,903.0 L411.5,903.2 L412.7,903.5 L413.9,903.8 L415.0,904.3 L416.1,904.7 L417.3,904.7 L418.4,904.1 L419.3,903.3 L419.9,902.4 L420.4,901.3 L420.9,900.1 L421.4,899.0 L421.9,897.9 L422.3,896.8 L422.8,895.6 L423.2,894.5 L423.7,893.4 L424.1,892.3 L424.6,891.2 L425.1,890.1 L425.6,889.0 L426.1,887.9 L426.6,886.8 L427.0,885.7 L427.4,884.6 L427.8,883.4 L428.1,882.3 L428.4,881.1 L428.8,879.9 L429.1,878.8 L429.4,877.6 L429.7,876.5 L430.0,875.3 L430.3,874.1 L430.6,873.0 L430.9,871.8 L431.2,870.6 L431.5,869.5 L431.7,868.3 L432.0,867.1 L432.3,865.9 L432.5,864.8 L432.8,863.6 L433.0,862.4 L433.3,861.2 L433.5,860.1 L433.7,858.9 L433.9,857.7 L434.1,856.5 L434.3,855.3 L434.5,854.1 L434.8,853.0 L435.0,851.8 L435.2,850.6 L435.5,849.4 L435.8,848.3 L436.0,847.1 L436.3,845.9 L436.5,844.7 L436.8,843.5 L437.0,842.4 L437.2,841.2 L437.4,840.0 L437.7,838.8 L437.9,837.6 L438.1,836.5 L438.3,835.3 L438.5,834.1 L438.7,832.9 L438.9,831.7 L439.2,830.5 L439.4,829.4 L439.6,828.2 L439.8,827.0 L440.0,825.8 L440.3,824.6 L440.5,823.4 L440.7,822.3 L440.9,821.1 L441.1,819.9 L441.3,818.7 L441.6,817.5 L441.8,816.3 L442.0,815.2 L442.2,814.0 L442.4,812.8 L442.6,811.6 L442.8,810.4 L443.0,809.2 L443.2,808.0 L443.3,806.9 L443.5,805.7 L443.7,804.5 L443.9,803.3 L444.1,802.1 L444.3,800.9 L444.4,799.7 L444.6,798.5 L444.8,797.3 L445.0,796.2 L445.1,795.0 L445.3,793.8 L445.5,792.6 L445.7,791.4 L445.9,790.2 L446.0,789.0 L446.2,787.8 L446.4,786.6 L446.6,785.4 L446.7,784.3 L446.9,783.1 L447.1,781.9 L447.2,780.7 L447.4,779.5 L447.6,778.3 L447.8,777.1 L447.9,775.9 L448.1,774.7 L448.3,773.5 L448.4,772.3 L448.6,771.2 L448.7,770.0 L448.9,768.8 L449.1,767.6 L449.2,766.4 L449.4,765.2 L449.5,764.0 L449.7,762.8 L449.9,761.6 L450.0,760.4 L450.2,759.2 L450.3,758.0 L450.5,756.8 L450.6,755.7 L450.8,754.5 L450.9,753.3 L451.0,752.1 L451.1,750.9 L451.3,749.7 L451.4,748.5 L451.5,747.3 L451.6,746.1 L451.7,744.9 L451.8,743.7 L451.9,742.5 L452.0,741.3 L452.1,740.1 L452.2,738.9 L452.3,737.7 L452.4,736.5 L452.5,735.3 L452.6,734.1 L452.7,732.9 L452.8,731.7 L452.8,730.5 L452.9,729.3 L453.0,728.1 L453.1,726.9 L453.2,725.7 L453.3,724.5 L453.4,723.3 L453.5,722.1 L453.6,720.9 L453.7,719.7 L453.7,718.5 L453.8,717.3 L453.9,716.1 L454.0,714.9 L454.1,713.7 L454.2,712.5 L454.2,711.3 L454.3,710.1 L454.4,708.9 L454.5,707.7 L454.6,706.5 L454.6,705.3 L454.7,704.1 L454.8,702.9 L454.9,701.7 L454.9,700.5 L455.0,699.3 L455.1,698.1 L455.2,696.9 L455.2,695.7 L455.3,694.5 L455.4,693.3 L455.5,692.1 L455.5,690.9 L455.6,689.7 L455.7,688.5 L455.7,687.3 L455.8,686.1 L455.9,684.9 L456.0,683.7 L456.0,682.5 L456.1,681.3 L456.2,680.1 L456.2,678.9 L456.3,677.7 L456.4,676.5 L456.4,675.3 L456.5,674.1 L456.6,672.9 L456.6,671.7 L456.7,670.5 L456.7,669.3 L456.8,668.1 L456.9,666.9 L456.9,665.7 L457.0,664.5 L457.1,663.3 L457.1,662.1 L457.2,660.9 L457.3,659.7 L457.3,658.5 L457.4,657.3 L457.4,656.1 L457.5,654.9 L457.6,653.7 L457.6,652.5 L457.7,651.3 L457.7,650.1 L457.8,648.9 L457.9,647.7 L457.9,646.5 L458.0,645.3 L458.0,644.1 L458.1,642.9 L458.2,641.7 L458.2,640.5 L458.3,639.3 L458.3,638.1 L458.4,636.9 L458.5,635.7 L458.5,634.5 L458.6,633.3 L458.6,632.1 L458.7,630.9 L458.7,629.7 L458.8,628.5 L458.9,627.3 L458.9,626.1 L459.0,624.9 L459.0,623.7 L459.1,622.5 L459.2,621.3 L459.2,620.1 L459.3,618.8 L459.3,617.6 L459.4,616.4 L459.5,615.2 L459.5,614.0 L459.6,612.8 L459.6,611.6 L459.7,610.4 L459.8,609.2 L459.8,608.0 L459.9,606.8 L459.9,605.6 L460.0,604.4 L460.0,603.2 L460.1,602.0 L460.2,600.8 L460.2,599.6 L460.3,598.4 L460.3,597.2 L460.4,596.0 L460.4,594.8 L460.5,593.6 L460.6,592.4 L460.6,591.2 L460.7,590.0 L460.7,588.8 L460.8,587.6 L460.8,586.4 L460.9,585.2 L460.9,584.0 L461.0,582.8 L461.1,581.6 L461.1,580.4 L461.2,579.2 L461.2,578.0 L461.3,576.8 L461.3,575.6 L461.4,574.4 L461.4,573.2 L461.5,572.0 L461.5,570.8 L461.6,569.6 L461.6,568.4 L461.7,567.2 L461.7,566.0 L461.8,564.8 L461.8,563.6 L461.9,562.4 L461.9,561.2 L462.0,560.0 L462.1,558.8 L462.1,557.6 L462.2,556.4 L462.2,555.2 L462.3,554.0 L462.3,552.8 L462.4,551.6 L462.4,550.4 L462.5,549.2 L462.5,548.0 L462.6,546.8 L462.6,545.6 L462.7,544.4 L462.7,543.2 L462.7,542.0 L462.8,540.8 L462.8,539.6 L462.9,538.4 L462.9,537.2 L463.0,536.0 L463.0,534.8 L463.1,533.6 L463.1,532.4 L463.2,531.2 L463.2,530.0 L463.3,528.8 L463.3,527.5 L463.4,526.3 L463.4,525.1 L463.5,523.9 L463.5,522.7 L463.6,521.5 L463.6,520.3 L463.7,519.1 L463.7,517.9 L463.8,516.7 L463.8,515.5 L463.9,514.3 L463.9,513.1 L464.0,511.9 L464.0,510.7 L464.0,509.5 L464.1,508.3 L464.1,507.1 L464.2,505.9 L464.2,504.7 L464.3,503.5 L464.3,502.3 L464.4,501.1 L464.4,499.9 L464.5,498.7 L464.5,497.5 L464.6,496.3 L464.6,495.1 L464.7,493.9 L464.7,492.7 L464.8,491.5 L464.8,490.3 L464.8,489.1 L464.9,487.9 L464.9,486.7 L465.0,485.5 L465.0,484.3 L465.1,483.1 L465.1,481.9 L465.2,480.7 L465.2,479.5 L465.3,478.3 L465.3,477.1 L465.4,475.9 L465.4,474.7 L465.5,473.5 L465.5,472.3 L465.6,471.1 L465.6,469.9 L465.7,468.7 L465.7,467.5 L465.8,466.3 L465.8,465.1 L465.9,463.9 L465.9,462.7 L465.9,461.5 L466.0,460.3 L466.0,459.1 L466.1,457.9 L466.1,456.7 L466.2,455.5 L466.2,454.2 L466.3,453.0 L466.3,451.8 L466.4,450.6 L466.4,449.4 L466.5,448.2 L466.5,447.0 L466.6,445.8 L466.6,444.6 L466.7,443.4 L466.7,442.2 L466.8,441.0 L466.8,439.8 L466.9,438.6 L466.9,437.4 L467.0,436.2 L467.1,435.0 L467.1,433.8 L467.2,432.6 L467.2,431.4 L467.3,430.2 L467.3,429.0 L467.4,427.8 L467.4,426.6 L467.5,425.4 L467.5,424.2 L467.6,423.0 L467.6,421.8 L467.7,420.6 L467.7,419.4 L467.8,418.2 L467.8,417.0 L467.9,415.8 L467.9,414.6 L468.0,413.4 L468.0,412.2 L468.1,411.0 L468.1,409.8 L468.2,408.6 L468.3,407.4 L468.3,406.2 L468.4,405.0 L468.4,403.8 L468.5,402.6 L468.5,401.4 L468.6,400.2 L468.6,399.0 L468.7,397.8 L468.7,396.6 L468.8,395.4 L468.8,394.2 L468.9,393.0 L468.9,391.8 L469.0,390.6 L469.0,389.4 L469.1,388.2 L469.1,387.0 L469.2,385.8 L469.2,384.6 L469.3,383.4 L469.3,382.2 L469.4,381.0 L469.4,379.8 L469.5,378.6 L469.5,377.4 L469.6,376.2 L469.6,375.0 L469.7,373.8 L469.7,372.5 L469.8,371.3 L469.8,370.1 L469.9,368.9 L469.9,367.7 L470.0,366.5 L470.0,365.3 L470.1,364.1 L470.1,362.9 L470.2,361.7 L470.2,360.5 L470.3,359.3 L470.3,358.1 L470.4,356.9 L470.4,355.7 L470.4,354.5 L470.5,353.3 L470.5,352.1 L470.6,350.9 L470.6,349.7 L470.7,348.5 L470.7,347.3 L470.8,346.1 L470.8,344.9 L470.8,343.7 L470.9,342.5 L470.9,341.3 L471.0,340.1 L471.0,338.9 L471.0,337.7 L471.1,336.5 L471.1,335.3 L471.2,334.1 L471.2,332.9 L471.2,331.7 L471.3,330.5 L471.3,329.3 L471.4,328.1 L471.4,326.9 L471.4,325.7 L471.5,324.5 L471.5,323.3 L471.5,322.1 L471.6,320.9 L471.6,319.7 L471.7,318.5 L471.7,317.3 L471.7,316.1 L471.7,314.9 L471.8,313.7 L471.8,312.5 L471.8,311.3 L471.9,310.1 L471.9,308.9 L471.9,307.7 L471.9,306.5 L472.0,305.2 L472.0,304.0 L472.0,302.8 L472.1,301.6 L472.1,300.4 L472.1,299.2 L472.1,298.0 L472.2,296.8 L472.2,295.6 L472.3,294.4 L472.3,293.2 L472.3,292.0 L472.4,290.8 L472.4,289.6 L472.5,288.4 L472.5,287.2 L472.6,286.0 L472.6,284.8 L472.7,283.6 L472.7,282.4 L472.8,281.2 L472.8,280.0 L472.8,278.8 L472.9,277.6 L472.9,276.4 L473.0,275.2 L473.0,274.0 L473.1,272.8 L473.1,271.6 L473.2,270.4 L473.2,269.2 L473.3,268.0 L473.3,266.8 L473.3,265.6 L473.4,264.4 L473.4,263.2 L473.5,262.0 L473.5,260.8 L473.6,259.6 L473.6,258.4 L473.6,257.2 L473.7,256.0 L473.7,254.8 L473.8,253.6 L473.8,252.4 L473.9,251.2 L473.9,250.0 L474.0,248.8 L474.0,247.6 L474.1,246.4 L474.1,245.2 L474.2,244.0 L474.3,242.8 L474.3,241.6 L474.4,240.4 L474.4,239.2 L474.5,238.0 L474.6,236.8 L474.6,235.6 L474.7,234.4 L474.8,233.2 L474.8,231.9 L474.9,230.7 L475.0,229.5 L475.0,228.3 L475.1,227.1 L475.2,225.9 L475.3,224.7 L475.4,223.5 L475.4,222.4 L475.5,221.2 L475.6,220.0 L475.7,218.8 L475.8,217.6 L475.9,216.4 L476.0,215.2 L476.1,214.0 L476.3,212.8 L476.4,211.6 L476.5,210.4 L476.6,209.2 L476.8,208.0 L476.9,206.8 L477.1,205.6 L477.2,204.4 L478.8,203.7 L479.0,204.9 L479.1,206.1 L479.3,207.3 L479.4,208.5 L479.6,209.7 L479.7,210.9 L479.9,212.0 L480.0,213.2 L480.2,214.4 L480.3,215.6 L480.5,216.8 L480.6,218.0 L480.8,219.2 L480.9,220.4 L481.0,221.6 L481.2,222.8 L481.3,224.0 L481.4,225.2 L481.5,226.4 L481.5,227.6 L481.6,228.8 L481.7,230.0 L481.8,231.2 L481.8,232.4 L481.9,233.6 L482.0,234.8 L482.0,236.0 L482.1,237.2 L482.2,238.4 L482.2,239.6 L482.3,240.8 L482.4,242.0 L482.4,243.2 L482.5,244.4 L482.5,245.6 L482.6,246.8 L482.7,248.0 L482.8,249.2 L482.8,250.4 L482.9,251.6 L483.0,252.8 L483.1,254.0 L483.1,255.2 L483.2,256.4 L483.3,257.6 L483.4,258.8 L483.4,260.0 L483.5,261.2 L483.6,262.4 L483.7,263.6 L483.8,264.8 L483.8,266.0 L483.9,267.2 L484.0,268.4 L484.0,269.6 L484.1,270.8 L484.2,272.0 L484.2,273.2 L484.3,274.4 L484.4,275.6 L484.4,276.8 L484.5,278.0 L484.6,279.2 L484.6,280.4 L484.7,281.6 L484.8,282.8 L484.8,284.0 L484.9,285.2 L484.9,286.4 L485.0,287.6 L485.0,288.8 L485.1,290.0 L485.2,291.2 L485.2,292.4 L485.3,293.6 L485.3,294.8 L485.4,296.0 L485.4,297.2 L485.5,298.4 L485.5,299.6 L485.6,300.8 L485.6,302.0 L485.7,303.2 L485.7,304.4 L485.8,305.6 L485.8,306.8 L485.9,308.0 L485.9,309.2 L486.0,310.4 L486.0,311.6 L486.1,312.8 L486.1,314.0 L486.2,315.2 L486.2,316.4 L486.3,317.6 L486.3,318.8 L486.4,320.0 L486.4,321.2 L486.5,322.4 L486.5,323.6 L486.6,324.8 L486.6,326.0 L486.7,327.2 L486.8,328.4 L486.8,329.6 L486.9,330.8 L486.9,332.0 L487.0,333.2 L487.0,334.4 L487.1,335.6 L487.1,336.8 L487.2,338.0 L487.2,339.2 L487.3,340.4 L487.3,341.6 L487.4,342.8 L487.4,344.0 L487.5,345.2 L487.5,346.4 L487.6,347.6 L487.6,348.8 L487.7,350.0 L487.7,351.2 L487.8,352.4 L487.9,353.6 L487.9,354.8 L488.0,356.0 L488.0,357.2 L488.1,358.4 L488.1,359.6 L488.2,360.8 L488.2,362.0 L488.3,363.2 L488.3,364.4 L488.4,365.6 L488.4,366.8 L488.5,368.0 L488.5,369.2 L488.6,370.4 L488.7,371.6 L488.7,372.8 L488.8,374.0 L488.8,375.2 L488.9,376.4 L488.9,377.6 L489.0,378.8 L489.0,380.0 L489.1,381.2 L489.1,382.4 L489.2,383.6 L489.2,384.8 L489.3,386.0 L489.4,387.2 L489.4,388.4 L489.5,389.6 L489.5,390.8 L489.6,392.0 L489.6,393.2 L489.7,394.4 L489.7,395.6 L489.8,396.8 L489.9,398.0 L489.9,399.2 L490.0,400.4 L490.0,401.6 L490.1,402.8 L490.1,404.0 L490.2,405.2 L490.2,406.4 L490.3,407.6 L490.4,408.8 L490.4,410.0 L490.5,411.2 L490.5,412.4 L490.6,413.6 L490.6,414.8 L490.7,416.0 L490.7,417.2 L490.8,418.5 L490.9,419.7 L490.9,420.9 L491.0,422.1 L491.0,423.3 L491.1,424.5 L491.1,425.7 L491.2,426.9 L491.3,428.1 L491.3,429.3 L491.4,430.5 L491.4,431.7 L491.5,432.9 L491.6,434.1 L491.6,435.3 L491.7,436.5 L491.7,437.7 L491.8,438.9 L491.8,440.1 L491.9,441.3 L492.0,442.5 L492.0,443.7 L492.1,444.9 L492.1,446.1 L492.2,447.3 L492.3,448.5 L492.3,449.7 L492.4,450.9 L492.4,452.1 L492.5,453.3 L492.6,454.5 L492.6,455.7 L492.7,456.9 L492.7,458.1 L492.8,459.3 L492.9,460.5 L492.9,461.7 L493.0,462.9 L493.0,464.1 L493.1,465.3 L493.2,466.5 L493.2,467.7 L493.3,468.9 L493.3,470.1 L493.4,471.3 L493.5,472.5 L493.5,473.7 L493.6,474.9 L493.7,476.1 L493.7,477.3 L493.8,478.5 L493.8,479.7 L493.9,480.9 L494.0,482.1 L494.0,483.3 L494.1,484.5 L494.1,485.7 L494.2,486.9 L494.3,488.1 L494.3,489.3 L494.4,490.5 L494.5,491.7 L494.5,492.9 L494.6,494.1 L494.6,495.3 L494.7,496.5 L494.8,497.7 L494.8,498.9 L494.9,500.1 L495.0,501.3 L495.0,502.5 L495.1,503.7 L495.2,504.9 L495.2,506.1 L495.3,507.3 L495.3,508.5 L495.4,509.7 L495.5,510.9 L495.5,512.1 L495.6,513.3 L495.7,514.5 L495.7,515.7 L495.8,516.9 L495.9,518.1 L495.9,519.3 L496.0,520.5 L496.1,521.7 L496.1,522.9 L496.2,524.1 L496.2,525.3 L496.3,526.5 L496.4,527.7 L496.4,528.9 L496.5,530.1 L496.6,531.3 L496.6,532.5 L496.7,533.7 L496.8,534.9 L496.8,536.1 L496.9,537.3 L497.0,538.5 L497.0,539.7 L497.1,540.9 L497.2,542.1 L497.2,543.3 L497.3,544.5 L497.4,545.7 L497.4,546.9 L497.5,548.1 L497.6,549.3 L497.6,550.5 L497.7,551.7 L497.8,552.9 L497.8,554.1 L497.9,555.3 L498.0,556.5 L498.1,557.7 L498.1,558.9 L498.2,560.1 L498.3,561.3 L498.3,562.5 L498.4,563.7 L498.5,564.9 L498.5,566.1 L498.6,567.3 L498.7,568.5 L498.7,569.7 L498.8,570.9 L498.9,572.1 L499.0,573.3 L499.0,574.5 L499.1,575.7 L499.2,576.9 L499.2,578.1 L499.3,579.3 L499.4,580.5 L499.5,581.7 L499.5,582.9 L499.6,584.1 L499.7,585.3 L499.7,586.5 L499.8,587.7 L499.9,588.9 L500.0,590.1 L500.0,591.3 L500.1,592.5 L500.2,593.7 L500.2,594.9 L500.3,596.1 L500.4,597.3 L500.5,598.5 L500.5,599.7 L500.6,600.9 L500.7,602.1 L500.8,603.3 L500.8,604.5 L500.9,605.7 L501.0,606.9 L501.1,608.1 L501.1,609.3 L501.2,610.5 L501.3,611.7 L501.4,612.9 L501.4,614.1 L501.5,615.3 L501.6,616.5 L501.7,617.7 L501.7,618.9 L501.8,620.1 L501.9,621.3 L502.0,622.5 L502.0,623.7 L502.1,624.9 L502.2,626.1 L502.3,627.3 L502.3,628.5 L502.4,629.7 L502.5,630.9 L502.6,632.1 L502.6,633.3 L502.7,634.5 L502.8,635.7 L502.9,636.9 L503.0,638.1 L503.0,639.3 L503.1,640.5 L503.2,641.7 L503.3,642.9 L503.3,644.1 L503.4,645.3 L503.5,646.5 L503.6,647.7 L503.7,648.9 L503.7,650.1 L503.8,651.3 L503.9,652.5 L504.0,653.7 L504.0,654.9 L504.1,656.1 L504.2,657.3 L504.3,658.4 L504.4,659.6 L504.4,660.8 L504.5,662.0 L504.6,663.2 L504.7,664.4 L504.8,665.6 L504.8,666.8 L504.9,668.0 L505.0,669.2 L505.1,670.4 L505.2,671.6 L505.3,672.8 L505.3,674.0 L505.4,675.2 L505.5,676.4 L505.6,677.6 L505.7,678.8 L505.8,680.0 L505.8,681.2 L505.9,682.4 L506.0,683.6 L506.1,684.8 L506.2,686.0 L506.3,687.2 L506.3,688.4 L506.4,689.6 L506.5,690.8 L506.6,692.0 L506.7,693.2 L506.8,694.4 L506.9,695.6 L506.9,696.8 L507.0,698.0 L507.1,699.2 L507.2,700.4 L507.3,701.6 L507.4,702.8 L507.5,704.0 L507.6,705.2 L507.7,706.4 L507.7,707.6 L507.8,708.8 L507.9,710.0 L508.0,711.2 L508.1,712.4 L508.2,713.6 L508.3,714.8 L508.4,716.0 L508.5,717.2 L508.6,718.4 L508.7,719.6 L508.8,720.8 L508.9,722.0 L508.9,723.2 L509.0,724.4 L509.1,725.6 L509.2,726.8 L509.3,728.0 L509.4,729.2 L509.5,730.4 L509.6,731.6 L509.7,732.8 L509.8,734.0 L509.9,735.2 L510.0,736.4 L510.1,737.6 L510.2,738.8 L510.3,740.0 L510.4,741.2 L510.5,742.4 L510.6,743.5 L510.7,744.7 L510.8,745.9 L510.9,747.1 L511.0,748.3 L511.1,749.5 L511.2,750.7 L511.3,751.9 L511.5,753.1 L511.6,754.3 L511.7,755.5 L511.8,756.7 L511.9,757.9 L512.0,759.1 L512.2,760.3 L512.3,761.5 L512.4,762.7 L512.5,763.9 L512.7,765.1 L512.8,766.3 L512.9,767.5 L513.1,768.7 L513.2,769.9 L513.3,771.1 L513.5,772.2 L513.6,773.4 L513.8,774.6 L513.9,775.8 L514.1,777.0 L514.2,778.2 L514.4,779.4 L514.5,780.6 L514.7,781.8 L514.8,783.0 L515.0,784.2 L515.2,785.4 L515.4,786.5 L515.5,787.7 L515.7,788.9 L515.9,790.1 L516.1,791.3 L516.3,792.5 L516.5,793.7 L516.7,794.9 L516.9,796.0 L517.1,797.2 L517.3,798.4 L517.5,799.6 L517.7,800.8 L517.9,802.0 L518.1,803.1 L518.3,804.3 L518.5,805.5 L518.8,806.7 L519.0,807.9 L519.2,809.1 L519.4,810.2 L519.6,811.4 L519.8,812.6 L520.0,813.8 L520.3,815.0 L520.5,816.2 L520.7,817.3 L520.9,818.5 L521.1,819.7 L521.3,820.9 L521.6,822.1 L521.8,823.3 L522.0,824.4 L522.2,825.6 L522.4,826.8 L522.6,828.0 L522.8,829.2 L523.1,830.3 L523.3,831.5 L523.5,832.7 L523.7,833.9 L523.9,835.1 L524.1,836.3 L524.3,837.4 L524.6,838.6 L524.8,839.8 L525.0,841.0 L525.2,842.2 L525.4,843.4 L525.6,844.6 L525.8,845.7 L526.0,846.9 L526.2,848.1 L526.5,849.3 L526.7,850.5 L526.9,851.6 L527.2,852.8 L527.5,854.0 L527.8,855.1 L528.2,856.3 L528.6,857.4 L529.0,858.6 L529.4,859.7 L529.9,860.8 L530.5,861.8 L531.1,862.8 L531.7,863.9 L532.4,864.9 L533.0,865.9 L533.6,867.0 L534.2,868.0 L534.7,869.1 L535.2,870.2 L535.7,871.3 L536.2,872.4 L536.7,873.5 L537.2,874.5 L537.8,875.6 L538.3,876.7 L538.8,877.8 L539.3,878.9 L539.8,880.0 L540.3,881.1 L540.9,882.2 L541.4,883.2 L542.0,884.2 L542.7,885.2 L543.4,886.2 L544.1,887.2 L544.9,888.1 L545.6,889.1 L546.3,890.0 L547.1,891.0 L547.9,891.9 L548.7,892.8 L549.5,893.7 L550.3,894.6 L551.1,895.5 L551.9,896.4 L552.7,897.3 L553.6,898.1 L554.5,898.9 L555.4,899.6 L556.4,900.2 L557.5,900.8 L558.6,901.3 L559.7,901.8 L560.8,902.3 L561.9,902.8 L563.0,903.3 L564.0,903.9 L565.1,904.4 L566.2,904.9 L567.3,905.3 L568.5,905.8 L569.6,906.3 L570.7,906.8 L571.8,907.3 L573.0,907.6 L574.1,907.8 L575.3,907.7 L576.5,907.6 L577.8,907.3 L578.9,907.2 L580.0,907.4 L581.1,908.0 L582.1,908.8 L583.0,909.7 L583.9,910.7 L584.7,911.6 L585.7,912.0 L586.8,911.8 L587.9,911.5 L589.2,911.2 L590.4,911.0 L591.6,911.1 L592.7,911.5 L593.9,911.8 L595.1,912.0 L596.3,912.0 L597.5,912.0 L598.7,912.0 L599.9,912.0 L601.0,912.2 L602.2,912.7 L603.3,913.1 L604.4,913.6 L605.6,914.1 L606.7,914.4 L607.9,914.4 L609.1,914.4 L610.3,914.4 L611.5,914.4 L612.7,914.4 L613.9,914.4 L615.1,914.4 L616.3,914.4 L617.5,914.4 L618.7,914.3 L619.9,914.3 L621.1,914.2 L622.3,914.2 L623.5,914.1 L624.7,914.0 L625.9,914.0 L627.1,913.9 L628.3,913.9 L629.5,913.9 L630.7,913.9 L631.9,914.0 L633.1,914.0 L634.3,914.1 L635.5,914.2 L636.7,914.2 L637.9,914.3 L639.1,914.4 L640.3,914.4 L641.5,914.4 L642.7,914.4 L643.9,914.4 L645.2,914.4 L646.4,914.4 L647.6,914.4 L648.8,914.4 L650.0,914.4 L651.2,914.4 L652.4,914.4 L653.6,914.4 L654.8,914.4 L656.0,914.4 L657.2,914.4 L658.4,914.4 L659.6,914.4 L660.8,914.4 L662.0,914.4 L663.2,914.4 L664.4,914.4 L665.6,914.4 L666.8,914.4 L668.0,914.4 L669.2,914.4 L670.4,914.4 L671.6,914.4 L672.8,914.4 L674.0,914.4 L675.2,914.4 L676.4,914.4 L677.6,914.4 L678.8,914.4 L680.0,914.4 L681.2,914.4 L682.4,914.4 L683.6,914.4 L684.8,914.4 L686.0,914.4 L687.2,914.4 L688.4,914.4 L689.6,914.4 L690.8,914.4 L692.0,914.4 L693.2,914.4 L694.4,914.4 L695.6,914.4 L696.8,914.4 L698.0,914.4 L699.2,914.4 L700.4,914.4 L701.6,914.4 L702.8,914.4 L704.0,914.4 L705.2,914.4 L706.4,914.4 L707.7,914.4 L708.9,914.4 L710.1,914.4 L711.3,914.4 L712.5,914.4 L713.7,914.4 L714.9,914.4 L716.1,914.4 L717.3,914.4 L718.5,914.4 L719.7,914.4 L720.9,914.4 L722.1,914.4 L723.3,914.4 L724.5,914.4 L725.7,914.4 L726.9,914.4 L728.1,914.4 L729.3,914.4 L730.5,914.4 L731.7,914.4 L732.9,914.4 L734.1,914.4 L735.3,914.4 L736.5,914.4 L737.7,914.4 L738.9,914.4 L740.1,914.4 L741.3,914.4 L742.5,914.4 L743.7,914.4 L744.9,914.4 L746.1,914.4 L747.3,914.4 L748.5,914.4 L749.7,914.4 L750.9,914.4 L752.1,914.4 L753.3,914.4 L754.5,914.4 L755.7,914.4 L756.9,914.4 L758.1,914.4 L759.3,914.4 L760.5,914.4 L761.7,914.4 L762.9,914.4 L764.1,914.4 L765.3,914.4 L766.5,914.4 L767.7,914.4 L768.9,914.3 L770.1,914.3 L771.4,914.3 L772.6,914.3 L773.8,914.3 L775.0,914.3 L776.2,914.3 L777.4,914.3 L778.6,914.3 L779.8,914.3 L781.0,914.3 L782.2,914.3 L783.4,914.3 L784.6,914.3 L785.8,914.3 L787.0,914.3 L788.2,914.3 L789.4,914.3 L790.6,914.3 L791.8,914.3 L793.0,914.3 L794.2,914.3 L795.4,914.3 L796.6,914.3 L797.8,914.3 L799.0,914.3 L800.2,914.3 L801.4,914.3 L802.6,914.3" fill="none" stroke="#7CAE00" stroke-width="2.35" stroke-linejoin="miter" stroke-miterlimit="10" stroke-linecap="butt"/>
<path d="M101.5,914.2 L102.7,914.2 L103.9,914.2 L105.1,914.2 L106.3,914.2 L107.5,914.2 L108.7,914.2 L109.9,914.2 L111.1,914.1 L112.3,914.1 L113.5,914.1 L114.7,914.1 L115.9,914.1 L117.1,914.1 L118.3,914.1 L119.5,914.1 L120.7,914.1 L121.9,914.1 L123.1,914.1 L124.3,914.0 L125.5,914.0 L126.7,914.0 L127.9,914.0 L129.1,914.0 L130.3,914.0 L131.5,914.0 L132.7,914.0 L133.9,914.0 L135.1,913.9 L136.4,913.9 L137.6,913.9 L138.8,913.9 L140.0,913.9 L141.2,913.8 L142.4,913.8 L143.6,913.8 L144.8,913.8 L146.0,913.8 L147.2,913.7 L148.4,913.7 L149.6,913.7 L150.8,913.7 L152.0,913.7 L153.2,913.7 L154.4,913.6 L155.6,913.6 L156.8,913.6 L158.0,913.6 L159.2,913.6 L160.4,913.6 L161.6,913.6 L162.8,913.6 L164.0,913.6 L165.2,913.6 L166.4,913.6 L167.6,913.6 L168.8,913.6 L170.0,913.6 L171.2,913.7 L172.4,913.7 L173.6,913.7 L174.8,913.7 L176.0,913.7 L177.2,913.7 L178.4,913.7 L179.6,913.7 L180.8,913.7 L182.0,913.8 L183.2,913.8 L184.4,913.8 L185.6,913.8 L186.8,913.8 L188.0,913.8 L189.2,913.8 L190.4,913.8 L191.6,913.8 L192.8,913.8 L194.0,913.8 L195.2,913.7 L196.4,913.7 L197.6,913.7 L198.8,913.6 L200.0,913.6 L201.2,913.5 L202.4,913.5 L203.6,913.4 L204.8,913.4 L206.0,913.3 L207.2,913.2 L208.4,913.2 L209.6,913.1 L210.8,913.1 L212.0,913.0 L213.2,912.9 L214.4,912.9 L215.6,912.8 L216.8,912.8 L218.0,912.8 L219.2,912.7 L220.4,912.7 L221.7,912.7 L222.9,912.6 L224.1,912.6 L225.3,912.6 L226.5,912.6 L227.7,912.6 L228.9,912.6 L230.1,912.7 L231.3,912.7 L232.5,912.7 L233.7,912.8 L234.9,912.8 L236.1,912.8 L237.3,912.9 L238.5,912.9 L239.7,912.9 L240.9,912.9 L242.1,912.9 L243.3,912.9 L244.5,912.9 L245.7,912.9 L246.9,912.9 L248.1,912.9 L249.3,912.9 L250.5,912.9 L251.7,912.9 L252.9,912.9 L254.1,912.8 L255.3,912.8 L256.5,912.7 L257.7,912.7 L258.9,912.6 L260.1,912.5 L261.3,912.5 L262.5,912.4 L263.7,912.4 L264.9,912.4 L266.1,912.4 L267.3,912.4 L268.5,912.3 L269.7,912.3 L270.9,912.3 L272.1,912.3 L273.3,912.3 L274.5,912.3 L275.7,912.3 L276.9,912.3 L278.1,912.2 L279.3,912.2 L280.5,912.2 L281.7,912.2 L282.9,912.1 L284.1,912.1 L285.3,912.0 L286.5,911.9 L287.7,911.8 L288.9,911.7 L290.1,911.6 L291.3,911.5 L292.5,911.4 L293.7,911.3 L294.9,911.2 L296.1,911.1 L297.3,911.0 L298.5,910.9 L299.7,910.8 L300.9,910.7 L302.1,910.6 L303.3,910.5 L304.5,910.4 L305.7,910.3 L306.9,910.2 L308.1,910.1 L309.3,910.0 L310.5,909.8 L311.7,909.7 L312.8,909.5 L314.0,909.3 L315.2,909.1 L316.4,908.9 L317.6,908.7 L318.8,908.5 L320.0,908.4 L321.2,908.2 L322.4,908.0 L323.5,907.9 L324.7,907.7 L325.9,907.6 L327.1,907.5 L328.3,907.3 L329.5,907.2 L330.7,907.0 L331.9,906.9 L333.1,906.7 L334.3,906.6 L335.5,906.4 L336.7,906.2 L337.8,906.0 L339.0,905.8 L340.2,905.5 L341.4,905.3 L342.6,905.1 L343.7,904.8 L344.9,904.5 L346.1,904.3 L347.2,903.9 L348.4,903.6 L349.5,903.3 L350.7,903.0 L351.9,902.8 L353.1,902.7 L354.3,902.6 L355.5,902.6 L356.7,902.6 L357.9,902.5 L359.1,902.5 L360.3,902.5 L361.5,902.4 L362.7,902.4 L363.9,902.3 L365.1,902.2 L366.3,902.1 L367.5,901.9 L368.6,901.6 L369.8,901.2 L370.9,900.7 L372.0,900.2 L373.1,899.7 L374.1,899.1 L375.1,898.4 L376.1,897.8 L377.1,897.1 L378.1,896.4 L379.1,895.7 L380.0,895.0 L380.9,894.2 L381.8,893.4 L382.7,892.6 L383.6,891.8 L384.5,891.0 L385.4,890.2 L386.3,889.4 L387.2,888.6 L388.1,887.7 L388.9,886.9 L389.8,886.1 L390.6,885.2 L391.4,884.3 L392.3,883.5 L393.1,882.6 L393.9,881.7 L394.7,880.8 L395.5,879.9 L396.3,879.0 L397.0,878.0 L397.7,877.1 L398.5,876.1 L399.2,875.1 L399.9,874.2 L400.5,873.1 L401.2,872.1 L401.8,871.1 L402.4,870.1 L403.0,869.0 L403.6,868.0 L404.2,867.0 L404.8,865.9 L405.4,864.9 L406.0,863.8 L406.6,862.8 L407.1,861.7 L407.7,860.7 L408.3,859.6 L408.8,858.5 L409.4,857.5 L410.0,856.4 L410.5,855.3 L411.1,854.3 L411.6,853.2 L412.1,852.1 L412.7,851.0 L413.2,850.0 L413.8,848.9 L414.3,847.8 L414.8,846.7 L415.4,845.7 L415.9,844.6 L416.4,843.5 L416.9,842.4 L417.5,841.3 L418.0,840.3 L418.5,839.2 L419.0,838.1 L419.5,837.0 L420.0,835.9 L420.6,834.8 L421.1,833.8 L421.6,832.7 L422.1,831.6 L422.6,830.5 L423.1,829.4 L423.6,828.3 L424.0,827.2 L424.5,826.1 L424.9,825.0 L425.4,823.8 L425.8,822.7 L426.2,821.6 L426.6,820.5 L427.1,819.3 L427.5,818.2 L427.8,817.1 L428.2,815.9 L428.6,814.8 L429.0,813.6 L429.4,812.5 L429.7,811.4 L430.1,810.2 L430.5,809.1 L430.8,807.9 L431.2,806.8 L431.5,805.6 L431.9,804.5 L432.2,803.3 L432.6,802.2 L432.9,801.0 L433.2,799.9 L433.6,798.7 L433.9,797.5 L434.2,796.4 L434.6,795.2 L434.9,794.1 L435.2,792.9 L435.6,791.8 L435.9,790.6 L436.2,789.5 L436.6,788.3 L436.9,787.2 L437.2,786.0 L437.6,784.8 L437.9,783.7 L438.2,782.5 L438.6,781.4 L438.9,780.2 L439.2,779.1 L439.6,777.9 L439.9,776.8 L440.3,775.6 L440.6,774.5 L441.0,773.3 L441.3,772.2 L441.6,771.0 L442.0,769.9 L442.3,768.7 L442.7,767.6 L443.0,766.4 L443.3,765.2 L443.7,764.1 L444.0,762.9 L444.3,761.8 L444.6,760.6 L444.9,759.4 L445.2,758.3 L445.5,757.1 L445.8,755.9 L446.0,754.8 L446.3,753.6 L446.6,752.4 L446.8,751.3 L447.1,750.1 L447.3,748.9 L447.6,747.7 L447.8,746.6 L448.1,745.4 L448.3,744.2 L448.5,743.0 L448.8,741.8 L449.0,740.7 L449.2,739.5 L449.4,738.3 L449.6,737.1 L449.9,735.9 L450.1,734.7 L450.3,733.6 L450.5,732.4 L450.7,731.2 L451.0,730.0 L451.2,728.8 L451.4,727.7 L451.6,726.5 L451.9,725.3 L452.1,724.1 L452.3,722.9 L452.6,721.8 L452.8,720.6 L453.1,719.4 L453.3,718.2 L453.6,717.1 L453.8,715.9 L454.0,714.7 L454.3,713.5 L454.5,712.4 L454.8,711.2 L455.0,710.0 L455.3,708.8 L455.5,707.6 L455.7,706.5 L456.0,705.3 L456.2,704.1 L456.5,702.9 L456.7,701.8 L456.9,700.6 L457.2,699.4 L457.4,698.2 L457.7,697.0 L457.9,695.9 L458.1,694.7 L458.4,693.5 L458.6,692.3 L458.9,691.2 L459.1,690.0 L459.4,688.8 L459.6,687.6 L459.9,686.5 L460.2,685.3 L460.4,684.1 L460.7,683.0 L461.0,681.8 L461.3,680.6 L461.5,679.4 L461.8,678.3 L462.1,677.1 L462.5,676.0 L462.8,674.8 L463.1,673.6 L463.4,672.5 L463.8,671.3 L464.1,670.2 L464.5,669.1 L464.9,667.9 L465.3,666.8 L465.7,665.7 L466.2,664.5 L466.7,663.4 L467.2,662.4 L467.8,661.3 L468.4,660.3 L469.0,659.3 L469.8,658.3 L470.5,657.4 L471.3,656.5 L472.1,655.6 L473.0,654.8 L473.9,653.9 L474.7,653.1 L475.6,652.2 L476.5,651.4 L477.4,650.6 L478.3,649.8 L479.2,649.1 L480.2,648.4 L481.2,647.7 L482.2,647.1 L483.3,646.7 L484.5,646.4 L485.7,646.4 L486.9,646.7 L487.9,647.3 L488.8,648.1 L489.6,649.0 L490.3,650.0 L490.9,651.0 L491.5,652.1 L492.1,653.1 L492.6,654.2 L493.1,655.3 L493.6,656.4 L494.0,657.5 L494.5,658.6 L494.9,659.8 L495.3,660.9 L495.8,662.0 L496.2,663.1 L496.6,664.3 L497.0,665.4 L497.5,666.5 L497.9,667.6 L498.3,668.8 L498.7,669.9 L499.1,671.0 L499.5,672.1 L499.9,673.3 L500.3,674.4 L500.7,675.6 L501.1,676.7 L501.5,677.8 L501.9,679.0 L502.3,680.1 L502.7,681.2 L503.1,682.4 L503.5,683.5 L503.9,684.6 L504.3,685.8 L504.7,686.9 L505.2,688.0 L505.6,689.1 L506.0,690.2 L506.5,691.4 L507.0,692.5 L507.4,693.6 L507.9,694.7 L508.4,695.8 L508.9,696.9 L509.4,698.0 L509.9,699.0 L510.4,700.1 L511.0,701.2 L511.5,702.3 L512.0,703.4 L512.6,704.4 L513.1,705.5 L513.7,706.6 L514.3,707.6 L514.8,708.7 L515.4,709.7 L516.0,710.8 L516.6,711.8 L517.2,712.8 L517.8,713.9 L518.4,714.9 L519.0,716.0 L519.5,717.1 L520.1,718.1 L520.6,719.2 L521.1,720.3 L521.6,721.4 L522.0,722.5 L522.5,723.6 L522.9,724.7 L523.4,725.9 L523.8,727.0 L524.2,728.1 L524.6,729.3 L525.0,730.4 L525.4,731.5 L525.7,732.7 L526.1,733.8 L526.4,735.0 L526.8,736.1 L527.1,737.3 L527.5,738.4 L527.8,739.6 L528.1,740.7 L528.4,741.9 L528.7,743.1 L529.0,744.2 L529.3,745.4 L529.6,746.6 L529.9,747.7 L530.2,748.9 L530.4,750.1 L530.7,751.2 L531.0,752.4 L531.2,753.6 L531.5,754.8 L531.7,755.9 L532.0,757.1 L532.2,758.3 L532.4,759.5 L532.7,760.7 L532.9,761.8 L533.2,763.0 L533.4,764.2 L533.7,765.4 L533.9,766.5 L534.2,767.7 L534.4,768.9 L534.7,770.1 L534.9,771.2 L535.2,772.4 L535.4,773.6 L535.7,774.8 L536.0,775.9 L536.2,777.1 L536.5,778.3 L536.8,779.4 L537.0,780.6 L537.3,781.8 L537.6,782.9 L537.9,784.1 L538.2,785.3 L538.5,786.4 L538.8,787.6 L539.1,788.8 L539.4,789.9 L539.8,791.1 L540.1,792.2 L540.4,793.4 L540.8,794.5 L541.2,795.7 L541.6,796.8 L542.0,797.9 L542.4,799.1 L542.8,800.2 L543.2,801.3 L543.6,802.5 L544.1,803.6 L544.5,804.7 L545.0,805.8 L545.5,806.9 L546.0,808.0 L546.5,809.1 L547.0,810.2 L547.5,811.2 L548.1,812.3 L548.7,813.3 L549.3,814.4 L550.0,815.4 L550.6,816.4 L551.3,817.4 L552.0,818.4 L552.7,819.3 L553.4,820.3 L554.2,821.2 L554.9,822.2 L555.6,823.1 L556.4,824.1 L557.1,825.0 L557.8,826.0 L558.5,827.0 L559.2,827.9 L559.9,828.9 L560.6,829.9 L561.3,830.9 L561.9,831.9 L562.6,833.0 L563.2,834.0 L563.8,835.0 L564.5,836.0 L565.1,837.0 L565.7,838.1 L566.3,839.1 L567.0,840.1 L567.6,841.2 L568.2,842.2 L568.8,843.2 L569.4,844.3 L570.0,845.3 L570.7,846.3 L571.3,847.4 L571.9,848.4 L572.5,849.4 L573.1,850.5 L573.7,851.5 L574.3,852.5 L574.9,853.6 L575.6,854.6 L576.2,855.6 L576.8,856.6 L577.5,857.6 L578.2,858.6 L578.9,859.6 L579.6,860.6 L580.3,861.5 L581.0,862.5 L581.8,863.4 L582.6,864.3 L583.4,865.2 L584.1,866.1 L585.0,867.0 L585.8,867.9 L586.6,868.8 L587.4,869.6 L588.3,870.5 L589.2,871.3 L590.1,872.1 L591.0,872.9 L591.9,873.6 L592.9,874.4 L593.8,875.2 L594.7,875.9 L595.6,876.7 L596.6,877.5 L597.5,878.3 L598.4,879.0 L599.3,879.8 L600.2,880.6 L601.1,881.4 L602.0,882.3 L602.8,883.1 L603.7,883.9 L604.6,884.7 L605.4,885.6 L606.3,886.4 L607.2,887.2 L608.1,888.0 L608.9,888.9 L609.8,889.7 L610.7,890.5 L611.6,891.3 L612.4,892.2 L613.3,893.0 L614.2,893.7 L615.2,894.5 L616.1,895.3 L617.0,896.0 L618.0,896.8 L619.0,897.5 L620.0,898.1 L621.0,898.7 L622.1,899.2 L623.2,899.7 L624.3,900.1 L625.5,900.5 L626.6,900.9 L627.8,901.2 L628.9,901.5 L630.1,901.7 L631.3,902.0 L632.4,902.3 L633.6,902.7 L634.7,903.0 L635.9,903.4 L637.0,903.8 L638.1,904.2 L639.3,904.7 L640.4,905.2 L641.4,905.7 L642.5,906.2 L643.6,906.7 L644.7,907.1 L645.9,907.6 L647.0,908.0 L648.1,908.4 L649.3,908.8 L650.4,909.1 L651.6,909.5 L652.7,909.8 L653.9,910.1 L655.0,910.4 L656.2,910.7 L657.4,910.9 L658.6,911.2 L659.7,911.5 L660.9,911.7 L662.1,911.9 L663.3,912.1 L664.5,912.2 L665.7,912.4 L666.9,912.5 L668.1,912.6 L669.3,912.6 L670.5,912.7 L671.7,912.7 L672.9,912.6 L674.1,912.6 L675.3,912.6 L676.5,912.5 L677.7,912.5 L678.9,912.6 L680.1,912.6 L681.3,912.8 L682.5,912.9 L683.7,913.0 L684.9,913.2 L686.1,913.3 L687.3,913.3 L688.4,913.4 L689.6,913.5 L690.8,913.6 L692.0,913.6 L693.2,913.7 L694.4,913.7 L695.7,913.8 L696.9,913.8 L698.1,913.9 L699.3,913.9 L700.5,914.0 L701.7,914.0 L702.9,914.0 L704.1,914.1 L705.3,914.1 L706.5,914.2 L707.7,914.2 L708.9,914.2 L710.1,914.2 L711.3,914.3 L712.5,914.3 L713.7,914.3 L714.9,914.3 L716.1,914.3 L717.3,914.3 L718.5,914.3 L719.7,914.3 L720.9,914.4 L722.1,914.4 L723.3,914.4 L724.5,914.4 L725.7,914.4 L726.9,914.4 L728.1,914.4 L729.3,914.4 L730.5,914.4 L731.7,914.4 L732.9,914.4 L734.1,914.4 L735.3,914.4 L736.5,914.4 L737.7,914.5 L738.9,914.5 L740.1,914.5 L741.3,914.5 L742.5,914.5 L743.7,914.5 L744.9,914.5 L746.1,914.5 L747.3,914.5 L748.5,914.5 L749.7,914.5 L750.9,914.5 L752.1,914.5 L753.3,914.5 L754.5,914.5 L755.7,914.5 L756.9,914.5 L758.1,914.5 L759.3,914.5 L760.5,914.5 L761.7,914.5 L762.9,914.5 L764.1,914.5 L765.3,914.5 L766.5,914.5 L767.7,914.5 L769.0,914.5 L770.2,914.5 L771.4,914.5 L772.6,914.5 L773.8,914.5 L775.0,914.5 L776.2,914.5 L777.4,914.5 L778.6,914.5 L779.8,914.5 L781.0,914.5 L782.2,914.5 L783.4,914.5 L784.6,914.5 L785.8,914.5 L787.0,914.5 L788.2,914.5 L789.4,914.5 L790.6,914.5 L791.8,914.5 L793.0,914.5 L794.2,914.5 L795.4,914.5 L796.6,914.5 L797.8,914.5 L799.0,914.5 L800.2,914.5 L801.4,914.5 L802.6,914.5" fill="none" stroke="#00BFC4" stroke-width="2.35" stroke-linejoin="miter" stroke-miterlimit="10" stroke-linecap="butt"/>
<path d="M101.5,914.6 L102.7,914.6 L103.9,914.6 L105.1,914.6 L106.3,914.6 L107.5,914.6 L108.7,914.6 L109.9,914.6 L111.1,914.6 L112.3,914.6 L113.5,914.6 L114.7,914.6 L115.9,914.6 L117.1,914.6 L118.3,914.6 L119.5,914.6 L120.7,914.6 L121.9,914.6 L123.1,914.6 L124.3,914.6 L125.5,914.6 L126.7,914.6 L128.0,914.6 L129.2,914.6 L130.4,914.6 L131.6,914.6 L132.8,914.6 L134.0,914.6 L135.2,914.6 L136.4,914.6 L137.6,914.6 L138.8,914.6 L140.0,914.6 L141.2,914.6 L142.4,914.6 L143.6,914.6 L144.8,914.6 L146.0,914.6 L147.2,914.6 L148.4,914.6 L149.6,914.6 L150.8,914.6 L152.0,914.6 L153.2,914.6 L154.4,914.6 L155.6,914.6 L156.8,914.6 L158.0,914.6 L159.2,914.6 L160.4,914.6 L161.6,914.6 L162.8,914.6 L164.0,914.6 L165.2,914.6 L166.4,914.6 L167.6,914.6 L168.8,914.6 L170.0,914.6 L171.2,914.6 L172.4,914.6 L173.6,914.6 L174.8,914.6 L176.0,914.6 L177.2,914.6 L178.5,914.6 L179.7,914.6 L180.9,914.6 L182.1,914.6 L183.3,914.6 L184.5,914.6 L185.7,914.6 L186.9,914.6 L188.1,914.6 L189.3,914.6 L190.5,914.6 L191.7,914.6 L192.9,914.6 L194.1,914.6 L195.3,914.6 L196.5,914.6 L197.7,914.6 L198.9,914.6 L200.1,914.6 L201.3,914.6 L202.5,914.6 L203.7,914.6 L204.9,914.6 L206.1,914.6 L207.3,914.6 L208.5,914.6 L209.7,914.6 L210.9,914.6 L212.1,914.6 L213.3,914.6 L214.5,914.6 L215.7,914.6 L216.9,914.6 L218.1,914.6 L219.3,914.6 L220.5,914.6 L221.7,914.6 L222.9,914.6 L224.1,914.6 L225.3,914.6 L226.5,914.6 L227.7,914.6 L229.0,914.6 L230.2,914.6 L231.4,914.6 L232.6,914.6 L233.8,914.6 L235.0,914.6 L236.2,914.6 L237.4,914.6 L238.6,914.6 L239.8,914.6 L241.0,914.6 L242.2,914.6 L243.4,914.6 L244.6,914.6 L245.8,914.6 L247.0,914.6 L248.2,914.6 L249.4,914.6 L250.6,914.6 L251.8,914.6 L253.0,914.6 L254.2,914.6 L255.4,914.6 L256.6,914.6 L257.8,914.6 L259.0,914.6 L260.2,914.6 L261.4,914.6 L262.6,914.6 L263.8,914.6 L265.0,914.6 L266.2,914.6 L267.4,914.6 L268.6,914.6 L269.8,914.6 L271.0,914.6 L272.2,914.5 L273.4,914.5 L274.6,914.5 L275.8,914.5 L277.0,914.5 L278.2,914.4 L279.4,914.4 L280.7,914.4 L281.9,914.4 L283.1,914.3 L284.3,914.3 L285.5,914.3 L286.7,914.2 L287.9,914.2 L289.1,914.1 L290.3,914.1 L291.5,914.0 L292.7,913.9 L293.9,913.8 L295.1,913.7 L296.3,913.7 L297.5,913.5 L298.7,913.4 L299.9,913.3 L301.1,913.2 L302.2,913.1 L303.4,913.0 L304.6,912.8 L305.8,912.7 L307.0,912.6 L308.2,912.4 L309.4,912.3 L310.6,912.1 L311.8,911.9 L313.0,911.8 L314.2,911.6 L315.4,911.4 L316.6,911.3 L317.7,911.1 L318.9,910.9 L320.1,910.7 L321.3,910.5 L322.5,910.3 L323.7,910.1 L324.9,909.8 L326.0,909.6 L327.2,909.3 L328.4,909.1 L329.6,908.8 L330.7,908.5 L331.9,908.2 L333.0,907.9 L334.2,907.6 L335.3,907.2 L336.5,906.8 L337.6,906.4 L338.7,906.0 L339.9,905.5 L341.0,905.1 L342.1,904.6 L343.2,904.1 L344.3,903.6 L345.3,903.1 L346.4,902.6 L347.5,902.0 L348.6,901.5 L349.6,900.9 L350.7,900.4 L351.7,899.8 L352.8,899.1 L353.8,898.5 L354.8,897.9 L355.8,897.2 L356.8,896.5 L357.7,895.8 L358.7,895.0 L359.7,894.3 L360.6,893.6 L361.5,892.8 L362.5,892.0 L363.4,891.3 L364.3,890.5 L365.2,889.7 L366.1,888.9 L367.0,888.1 L367.9,887.3 L368.8,886.5 L369.6,885.6 L370.5,884.8 L371.3,883.9 L372.1,883.0 L372.9,882.1 L373.7,881.3 L374.5,880.3 L375.3,879.4 L376.1,878.5 L376.8,877.5 L377.5,876.6 L378.2,875.6 L378.9,874.6 L379.6,873.6 L380.2,872.6 L380.8,871.6 L381.4,870.5 L382.0,869.5 L382.6,868.4 L383.2,867.4 L383.7,866.3 L384.3,865.2 L384.8,864.1 L385.3,863.1 L385.8,862.0 L386.4,860.9 L386.9,859.8 L387.4,858.7 L387.9,857.6 L388.4,856.5 L388.9,855.4 L389.4,854.3 L389.9,853.3 L390.4,852.2 L390.9,851.1 L391.4,850.0 L391.9,848.9 L392.4,847.8 L392.9,846.7 L393.5,845.6 L394.0,844.5 L394.5,843.5 L395.0,842.4 L395.6,841.3 L396.1,840.2 L396.6,839.1 L397.2,838.1 L397.7,837.0 L398.3,835.9 L398.8,834.9 L399.4,833.8 L400.0,832.8 L400.5,831.7 L401.1,830.6 L401.7,829.6 L402.3,828.6 L402.9,827.5 L403.5,826.5 L404.1,825.4 L404.7,824.4 L405.3,823.3 L405.9,822.3 L406.4,821.2 L407.0,820.2 L407.6,819.1 L408.1,818.0 L408.7,817.0 L409.2,815.9 L409.8,814.8 L410.3,813.7 L410.8,812.7 L411.3,811.6 L411.9,810.5 L412.4,809.4 L412.9,808.3 L413.4,807.2 L413.9,806.1 L414.4,805.0 L414.9,803.9 L415.3,802.8 L415.8,801.7 L416.3,800.6 L416.8,799.5 L417.2,798.4 L417.7,797.3 L418.2,796.2 L418.6,795.1 L419.1,794.0 L419.5,792.8 L420.0,791.7 L420.4,790.6 L420.9,789.5 L421.3,788.4 L421.7,787.3 L422.2,786.1 L422.6,785.0 L423.1,783.9 L423.5,782.8 L424.0,781.7 L424.4,780.6 L424.9,779.5 L425.4,778.4 L425.9,777.3 L426.4,776.2 L426.9,775.1 L427.4,774.0 L427.9,772.9 L428.4,771.8 L428.9,770.7 L429.5,769.6 L430.0,768.6 L430.6,767.5 L431.1,766.4 L431.7,765.4 L432.3,764.3 L432.8,763.3 L433.4,762.2 L434.0,761.2 L434.6,760.1 L435.2,759.1 L435.9,758.1 L436.5,757.0 L437.1,756.0 L437.7,755.0 L438.3,754.0 L439.0,752.9 L439.6,751.9 L440.3,750.9 L440.9,749.9 L441.5,748.9 L442.2,747.8 L442.8,746.8 L443.4,745.8 L444.1,744.8 L444.7,743.8 L445.4,742.7 L446.0,741.7 L446.6,740.7 L447.3,739.7 L447.9,738.7 L448.5,737.6 L449.2,736.6 L449.8,735.6 L450.4,734.6 L451.1,733.6 L451.7,732.5 L452.4,731.5 L453.0,730.5 L453.7,729.5 L454.3,728.5 L455.0,727.5 L455.7,726.5 L456.4,725.5 L457.1,724.5 L457.8,723.6 L458.5,722.6 L459.2,721.7 L460.0,720.7 L460.8,719.8 L461.6,719.0 L462.5,718.1 L463.4,717.4 L464.4,716.6 L465.4,716.0 L466.5,715.4 L467.6,715.0 L468.7,714.6 L469.9,714.4 L471.1,714.3 L472.3,714.3 L473.5,714.5 L474.7,714.7 L475.8,715.1 L476.9,715.5 L478.0,716.0 L479.1,716.5 L480.1,717.1 L481.2,717.7 L482.2,718.4 L483.2,719.1 L484.1,719.8 L485.1,720.6 L486.0,721.3 L486.9,722.1 L487.8,722.9 L488.7,723.8 L489.5,724.6 L490.3,725.5 L491.2,726.4 L491.9,727.3 L492.7,728.2 L493.5,729.1 L494.2,730.1 L494.9,731.1 L495.6,732.0 L496.3,733.0 L496.9,734.0 L497.6,735.0 L498.2,736.1 L498.9,737.1 L499.5,738.1 L500.1,739.1 L500.8,740.2 L501.4,741.2 L502.0,742.2 L502.6,743.2 L503.2,744.3 L503.9,745.3 L504.5,746.3 L505.1,747.4 L505.7,748.4 L506.4,749.4 L507.0,750.4 L507.6,751.5 L508.3,752.5 L508.9,753.5 L509.5,754.5 L510.2,755.6 L510.8,756.6 L511.4,757.6 L512.1,758.6 L512.7,759.6 L513.4,760.6 L514.0,761.7 L514.7,762.7 L515.3,763.7 L515.9,764.7 L516.6,765.7 L517.2,766.7 L517.9,767.7 L518.5,768.8 L519.1,769.8 L519.7,770.8 L520.4,771.9 L521.0,772.9 L521.6,773.9 L522.2,775.0 L522.8,776.0 L523.3,777.1 L523.9,778.1 L524.5,779.2 L525.1,780.2 L525.7,781.2 L526.4,782.3 L527.0,783.3 L527.6,784.3 L528.2,785.4 L528.9,786.4 L529.5,787.4 L530.2,788.4 L530.9,789.4 L531.6,790.4 L532.3,791.3 L533.0,792.3 L533.7,793.2 L534.5,794.2 L535.2,795.1 L536.0,796.0 L536.8,797.0 L537.6,797.9 L538.4,798.8 L539.2,799.7 L540.0,800.6 L540.8,801.5 L541.6,802.4 L542.4,803.2 L543.2,804.1 L544.0,805.0 L544.8,805.9 L545.6,806.8 L546.4,807.7 L547.2,808.6 L548.0,809.5 L548.9,810.4 L549.7,811.3 L550.5,812.1 L551.3,813.0 L552.1,813.9 L552.9,814.8 L553.8,815.6 L554.6,816.5 L555.5,817.4 L556.3,818.2 L557.2,819.0 L558.0,819.9 L558.9,820.7 L559.8,821.5 L560.7,822.3 L561.6,823.1 L562.5,823.9 L563.4,824.7 L564.4,825.4 L565.3,826.2 L566.2,826.9 L567.2,827.7 L568.1,828.4 L569.1,829.2 L570.0,829.9 L570.9,830.7 L571.8,831.5 L572.7,832.3 L573.6,833.1 L574.4,834.0 L575.3,834.9 L576.1,835.8 L576.9,836.6 L577.7,837.6 L578.4,838.5 L579.2,839.4 L579.9,840.4 L580.6,841.3 L581.4,842.3 L582.1,843.3 L582.8,844.2 L583.5,845.2 L584.2,846.2 L584.8,847.2 L585.5,848.2 L586.2,849.2 L586.9,850.2 L587.5,851.2 L588.2,852.2 L588.9,853.2 L589.5,854.2 L590.2,855.2 L590.9,856.2 L591.6,857.1 L592.3,858.1 L593.0,859.1 L593.7,860.1 L594.4,861.0 L595.2,862.0 L595.9,862.9 L596.7,863.9 L597.4,864.8 L598.2,865.7 L599.1,866.6 L599.9,867.4 L600.7,868.3 L601.6,869.1 L602.5,869.9 L603.4,870.7 L604.4,871.4 L605.4,872.1 L606.3,872.8 L607.4,873.4 L608.4,874.0 L609.5,874.6 L610.5,875.2 L611.6,875.7 L612.7,876.2 L613.8,876.7 L614.9,877.2 L616.0,877.7 L617.1,878.1 L618.2,878.6 L619.3,879.1 L620.4,879.6 L621.5,880.1 L622.5,880.7 L623.6,881.2 L624.7,881.8 L625.7,882.4 L626.8,882.9 L627.8,883.5 L628.9,884.1 L629.9,884.7 L631.0,885.3 L632.1,885.8 L633.1,886.4 L634.2,886.9 L635.3,887.4 L636.4,887.9 L637.5,888.3 L638.6,888.8 L639.8,889.2 L640.9,889.6 L642.0,890.0 L643.2,890.4 L644.3,890.7 L645.5,891.0 L646.7,891.3 L647.8,891.7 L649.0,892.0 L650.1,892.3 L651.3,892.6 L652.4,893.0 L653.6,893.3 L654.7,893.7 L655.9,894.1 L657.0,894.6 L658.1,895.0 L659.2,895.5 L660.3,896.0 L661.3,896.6 L662.4,897.1 L663.5,897.7 L664.5,898.2 L665.6,898.8 L666.7,899.4 L667.7,900.0 L668.8,900.6 L669.8,901.2 L670.9,901.7 L671.9,902.3 L673.0,902.9 L674.1,903.4 L675.1,903.9 L676.2,904.5 L677.3,905.0 L678.4,905.4 L679.5,905.9 L680.7,906.3 L681.8,906.6 L683.0,907.0 L684.1,907.3 L685.3,907.6 L686.4,907.9 L687.6,908.2 L688.8,908.5 L690.0,908.7 L691.1,909.0 L692.3,909.2 L693.5,909.5 L694.7,909.7 L695.8,910.0 L697.0,910.2 L698.2,910.4 L699.4,910.6 L700.6,910.8 L701.8,911.0 L702.9,911.2 L704.1,911.4 L705.3,911.6 L706.5,911.8 L707.7,911.9 L708.9,912.1 L710.1,912.2 L711.3,912.4 L712.5,912.5 L713.7,912.6 L714.9,912.8 L716.1,912.9 L717.3,913.0 L718.5,913.1 L719.7,913.2 L720.9,913.3 L722.1,913.4 L723.3,913.5 L724.5,913.6 L725.7,913.6 L726.9,913.7 L728.1,913.7 L729.3,913.8 L730.5,913.8 L731.7,913.9 L732.9,913.9 L734.1,914.0 L735.3,914.0 L736.5,914.0 L737.7,914.1 L738.9,914.1 L740.1,914.1 L741.3,914.1 L742.5,914.2 L743.7,914.2 L744.9,914.2 L746.1,914.2 L747.3,914.2 L748.5,914.3 L749.7,914.3 L750.9,914.3 L752.1,914.3 L753.3,914.3 L754.5,914.3 L755.7,914.3 L756.9,914.3 L758.1,914.3 L759.3,914.3 L760.5,914.3 L761.7,914.3 L762.9,914.3 L764.1,914.3 L765.3,914.3 L766.5,914.3 L767.7,914.3 L768.9,914.3 L770.1,914.3 L771.3,914.3 L772.5,914.3 L773.7,914.3 L774.9,914.3 L776.1,914.3 L777.4,914.3 L778.6,914.3 L779.8,914.3 L781.0,914.3 L782.2,914.3 L783.4,914.3 L784.6,914.3 L785.8,914.3 L787.0,914.3 L788.2,914.3 L789.4,914.3 L790.6,914.3 L791.8,914.3 L793.0,914.3 L794.2,914.3 L795.4,914.3 L796.6,914.3 L797.8,914.3 L799.0,914.3 L800.2,914.3 L801.4,914.3 L802.6,914.3" fill="none" stroke="#C77CFF" stroke-width="2.35" stroke-linejoin="miter" stroke-miterlimit="10" stroke-linecap="butt"/>
<line x1="99.20" x2="99.20" y1="958.0" y2="963.9" stroke="#333333" stroke-width="2.2"/>
<line x1="288.55" x2="288.55" y1="958.0" y2="963.9" stroke="#333333" stroke-width="2.2"/>
<line x1="477.90" x2="477.90" y1="958.0" y2="963.9" stroke="#333333" stroke-width="2.2"/>
<line x1="667.25" x2="667.25" y1="958.0" y2="963.9" stroke="#333333" stroke-width="2.2"/>
<line y1="914.50" y2="914.50" x1="61.1" x2="67.0" stroke="#333333" stroke-width="2.2"/>
<line y1="748.22" y2="748.22" x1="61.1" x2="67.0" stroke="#333333" stroke-width="2.2"/>
<line y1="581.94" y2="581.94" x1="61.1" x2="67.0" stroke="#333333" stroke-width="2.2"/>
<line y1="415.66" y2="415.66" x1="61.1" x2="67.0" stroke="#333333" stroke-width="2.2"/>
<line y1="249.38" y2="249.38" x1="61.1" x2="67.0" stroke="#333333" stroke-width="2.2"/>
<line y1="83.10" y2="83.10" x1="61.1" x2="67.0" stroke="#333333" stroke-width="2.2"/>
<text x="99.20" y="981.5" font-size="18.33" letter-spacing="0.32" fill="#4D4D4D" text-anchor="middle">-20</text>
<text x="288.55" y="981.5" font-size="18.33" letter-spacing="0.32" fill="#4D4D4D" text-anchor="middle">-10</text>
<text x="477.90" y="981.5" font-size="18.33" letter-spacing="0.32" fill="#4D4D4D" text-anchor="middle">0</text>
<text x="667.25" y="981.5" font-size="18.33" letter-spacing="0.32" fill="#4D4D4D" text-anchor="middle">10</text>
<text x="56.8" y="921.40" font-size="18.33" letter-spacing="0.32" fill="#4D4D4D" text-anchor="end">0.0</text>
<text x="56.8" y="755.12" font-size="18.33" letter-spacing="0.32" fill="#4D4D4D" text-anchor="end">0.1</text>
<text x="56.8" y="588.84" font-size="18.33" letter-spacing="0.32" fill="#4D4D4D" text-anchor="end">0.2</text>
<text x="56.8" y="422.56" font-size="18.33" letter-spacing="0.32" fill="#4D4D4D" text-anchor="end">0.3</text>
<text x="56.8" y="256.28" font-size="18.33" letter-spacing="0.32" fill="#4D4D4D" text-anchor="end">0.4</text>
<text x="56.8" y="90.00" font-size="18.33" letter-spacing="0.32" fill="#4D4D4D" text-anchor="end">0.5</text>
<text x="452.0" y="1005.8" font-size="22.9" letter-spacing="0.33" fill="#000000" text-anchor="middle">Slope difference (deg)</text>
<text transform="translate(20.0,480.2) rotate(-90) scale(1,1.01)" font-size="22.9" letter-spacing="0.33" fill="#000000" text-anchor="middle">density</text>
<text transform="translate(872.4,408.7) scale(1,1.045)" font-size="22.9" letter-spacing="0.33" fill="#000000">DEM</text>
<rect x="872.60" y="422.80" width="36.5" height="36.5" fill="#F2F2F2"/>
<rect x="873.70" y="423.90" width="34.30" height="34.30" fill="none" stroke="#F8766D" stroke-width="2.2" stroke-linejoin="round"/>
<text x="921.1" y="446.9" font-size="18.33" letter-spacing="0.32" fill="#000000">COP30</text>
<rect x="872.60" y="459.90" width="36.5" height="36.5" fill="#F2F2F2"/>
<rect x="873.70" y="461.00" width="34.30" height="34.30" fill="none" stroke="#7CAE00" stroke-width="2.2" stroke-linejoin="round"/>
<text x="921.1" y="484.2" font-size="18.33" letter-spacing="0.32" fill="#000000">FABDEM</text>
<rect x="872.60" y="497.00" width="36.5" height="36.5" fill="#F2F2F2"/>
<rect x="873.70" y="498.10" width="34.30" height="34.30" fill="none" stroke="#00BFC4" stroke-width="2.2" stroke-linejoin="round"/>
<text x="921.1" y="521.35" font-size="18.33" letter-spacing="0.32" fill="#000000">MERIT</text>
<rect x="872.60" y="534.10" width="36.5" height="36.5" fill="#F2F2F2"/>
<rect x="873.70" y="535.20" width="34.30" height="34.30" fill="none" stroke="#C77CFF" stroke-width="2.2" stroke-linejoin="round"/>
<text x="921.1" y="558.7" font-size="18.33" letter-spacing="0.32" fill="#000000">SRTM</text>
</svg>
</body></html>
